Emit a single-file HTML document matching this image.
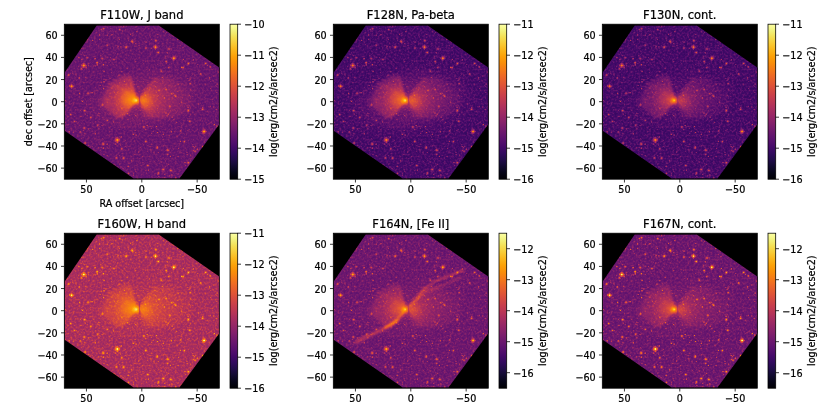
<!DOCTYPE html>
<html><head><meta charset="utf-8"><title>HST filters</title>
<style>
html,body{margin:0;padding:0;background:#fff;}
svg{display:block;}
text{font-family:"DejaVu Sans","Liberation Sans",sans-serif;fill:#000;stroke:#000;stroke-width:.22px;}
.t{font-size:11.53px;text-anchor:middle;}
.k{font-size:9.6px;}
.m{text-anchor:middle;}
.e{text-anchor:end;}
.l{stroke:#000;stroke-width:0.77;fill:none;}
</style></head><body>
<svg width="830" height="415" viewBox="0 0 830 415">
<defs>
<linearGradient id="cb" x1="0" y1="0" x2="0" y2="1"><stop offset="0.0000" stop-color="#fcffa4"/><stop offset="0.0417" stop-color="#f2f27d"/><stop offset="0.0833" stop-color="#f4df53"/><stop offset="0.1250" stop-color="#f9cb35"/><stop offset="0.1667" stop-color="#fbb61a"/><stop offset="0.2083" stop-color="#fca108"/><stop offset="0.2500" stop-color="#f98e09"/><stop offset="0.2917" stop-color="#f57b17"/><stop offset="0.3333" stop-color="#ed6925"/><stop offset="0.3750" stop-color="#e45a31"/><stop offset="0.4167" stop-color="#d84c3e"/><stop offset="0.4583" stop-color="#ca404a"/><stop offset="0.5000" stop-color="#bc3754"/><stop offset="0.5417" stop-color="#ab2f5e"/><stop offset="0.5833" stop-color="#9a2865"/><stop offset="0.6250" stop-color="#8a226a"/><stop offset="0.6667" stop-color="#781c6d"/><stop offset="0.7083" stop-color="#67166e"/><stop offset="0.7500" stop-color="#57106e"/><stop offset="0.7917" stop-color="#450a69"/><stop offset="0.8333" stop-color="#320a5e"/><stop offset="0.8750" stop-color="#210c4a"/><stop offset="0.9167" stop-color="#110a30"/><stop offset="0.9583" stop-color="#050417"/><stop offset="1.0000" stop-color="#000004"/></linearGradient>
<filter id="nz0" color-interpolation-filters="sRGB" x="0" y="0" width="100%" height="100%"><feTurbulence type="fractalNoise" baseFrequency="0.47" numOctaves="2" seed="5" result="t"/><feColorMatrix in="t" type="matrix" values="1.3 0 0 0 -.15  1.3 0 0 0 -.15  1.3 0 0 0 -.15  0 0 0 0 1" result="g"/><feComponentTransfer in="g" result="g2"><feFuncR type="gamma" exponent="2.2" amplitude="1"/><feFuncG type="gamma" exponent="2.2" amplitude="1"/><feFuncB type="gamma" exponent="2.2" amplitude="1"/></feComponentTransfer><feComposite in="g2" in2="SourceGraphic" operator="in" result="nm"/><feComposite in="SourceGraphic" in2="nm" operator="arithmetic" k1="0" k2="1" k3="0.16" k4="-0.03"/></filter>
<filter id="nz1" color-interpolation-filters="sRGB" x="0" y="0" width="100%" height="100%"><feTurbulence type="fractalNoise" baseFrequency="0.47" numOctaves="2" seed="5" result="t"/><feColorMatrix in="t" type="matrix" values="1.3 0 0 0 -.15  1.3 0 0 0 -.15  1.3 0 0 0 -.15  0 0 0 0 1" result="g"/><feComponentTransfer in="g" result="g2"><feFuncR type="gamma" exponent="2.2" amplitude="1"/><feFuncG type="gamma" exponent="2.2" amplitude="1"/><feFuncB type="gamma" exponent="2.2" amplitude="1"/></feComponentTransfer><feComposite in="g2" in2="SourceGraphic" operator="in" result="nm"/><feComposite in="SourceGraphic" in2="nm" operator="arithmetic" k1="0" k2="1" k3="0.17" k4="-0.03"/></filter>
<filter id="nz2" color-interpolation-filters="sRGB" x="0" y="0" width="100%" height="100%"><feTurbulence type="fractalNoise" baseFrequency="0.47" numOctaves="2" seed="5" result="t"/><feColorMatrix in="t" type="matrix" values="1.3 0 0 0 -.15  1.3 0 0 0 -.15  1.3 0 0 0 -.15  0 0 0 0 1" result="g"/><feComponentTransfer in="g" result="g2"><feFuncR type="gamma" exponent="2.2" amplitude="1"/><feFuncG type="gamma" exponent="2.2" amplitude="1"/><feFuncB type="gamma" exponent="2.2" amplitude="1"/></feComponentTransfer><feComposite in="g2" in2="SourceGraphic" operator="in" result="nm"/><feComposite in="SourceGraphic" in2="nm" operator="arithmetic" k1="0" k2="1" k3="0.17" k4="-0.03"/></filter>
<filter id="nz3" color-interpolation-filters="sRGB" x="0" y="0" width="100%" height="100%"><feTurbulence type="fractalNoise" baseFrequency="0.47" numOctaves="2" seed="5" result="t"/><feColorMatrix in="t" type="matrix" values="1.3 0 0 0 -.15  1.3 0 0 0 -.15  1.3 0 0 0 -.15  0 0 0 0 1" result="g"/><feComponentTransfer in="g" result="g2"><feFuncR type="gamma" exponent="2.2" amplitude="1"/><feFuncG type="gamma" exponent="2.2" amplitude="1"/><feFuncB type="gamma" exponent="2.2" amplitude="1"/></feComponentTransfer><feComposite in="g2" in2="SourceGraphic" operator="in" result="nm"/><feComposite in="SourceGraphic" in2="nm" operator="arithmetic" k1="0" k2="1" k3="0.2" k4="-0.04"/></filter>
<filter id="nz4" color-interpolation-filters="sRGB" x="0" y="0" width="100%" height="100%"><feTurbulence type="fractalNoise" baseFrequency="0.47" numOctaves="2" seed="5" result="t"/><feColorMatrix in="t" type="matrix" values="1.3 0 0 0 -.15  1.3 0 0 0 -.15  1.3 0 0 0 -.15  0 0 0 0 1" result="g"/><feComponentTransfer in="g" result="g2"><feFuncR type="gamma" exponent="2.2" amplitude="1"/><feFuncG type="gamma" exponent="2.2" amplitude="1"/><feFuncB type="gamma" exponent="2.2" amplitude="1"/></feComponentTransfer><feComposite in="g2" in2="SourceGraphic" operator="in" result="nm"/><feComposite in="SourceGraphic" in2="nm" operator="arithmetic" k1="0" k2="1" k3="0.16" k4="-0.03"/></filter>
<filter id="nz5" color-interpolation-filters="sRGB" x="0" y="0" width="100%" height="100%"><feTurbulence type="fractalNoise" baseFrequency="0.47" numOctaves="2" seed="5" result="t"/><feColorMatrix in="t" type="matrix" values="1.3 0 0 0 -.15  1.3 0 0 0 -.15  1.3 0 0 0 -.15  0 0 0 0 1" result="g"/><feComponentTransfer in="g" result="g2"><feFuncR type="gamma" exponent="2.2" amplitude="1"/><feFuncG type="gamma" exponent="2.2" amplitude="1"/><feFuncB type="gamma" exponent="2.2" amplitude="1"/></feComponentTransfer><feComposite in="g2" in2="SourceGraphic" operator="in" result="nm"/><feComposite in="SourceGraphic" in2="nm" operator="arithmetic" k1="0" k2="1" k3="0.16" k4="-0.03"/></filter>
<filter id="inf" color-interpolation-filters="sRGB" x="0" y="0" width="100%" height="100%"><feComponentTransfer><feFuncR type="table" tableValues="0.001 0.006 0.014 0.026 0.042 0.061 0.082 0.105 0.129 0.156 0.183 0.211 0.238 0.265 0.291 0.316 0.348 0.373 0.398 0.423 0.447 0.472 0.497 0.522 0.547 0.572 0.597 0.622 0.646 0.671 0.695 0.718 0.747 0.770 0.791 0.812 0.832 0.851 0.869 0.886 0.902 0.916 0.930 0.942 0.952 0.961 0.969 0.976 0.982 0.985 0.987 0.988 0.987 0.985 0.981 0.976 0.970 0.963 0.955 0.949 0.946 0.952 0.966 0.988"/><feFuncG type="table" tableValues="0.000 0.005 0.011 0.019 0.028 0.037 0.043 0.047 0.047 0.045 0.040 0.037 0.037 0.040 0.046 0.053 0.065 0.074 0.083 0.093 0.102 0.111 0.119 0.128 0.137 0.146 0.155 0.164 0.174 0.184 0.195 0.207 0.222 0.236 0.251 0.267 0.284 0.302 0.322 0.343 0.364 0.387 0.411 0.436 0.462 0.489 0.516 0.544 0.579 0.608 0.638 0.668 0.698 0.728 0.759 0.790 0.821 0.851 0.882 0.910 0.937 0.961 0.981 0.998"/><feFuncB type="table" tableValues="0.014 0.039 0.072 0.106 0.141 0.178 0.215 0.253 0.291 0.325 0.355 0.379 0.396 0.409 0.419 0.425 0.430 0.432 0.433 0.433 0.431 0.428 0.424 0.420 0.414 0.406 0.398 0.389 0.378 0.367 0.354 0.341 0.323 0.307 0.291 0.275 0.257 0.240 0.221 0.203 0.184 0.165 0.145 0.125 0.105 0.084 0.063 0.044 0.026 0.024 0.035 0.058 0.088 0.121 0.157 0.196 0.239 0.286 0.337 0.395 0.459 0.524 0.587 0.645"/></feComponentTransfer></filter>
<clipPath id="pc"><polygon points="32.4,1.2 94.5,1.2 155.3,43.6 155.3,99.7 115.2,154.2 69.3,154.2 0,106.2 0,48.9"/></clipPath>
<radialGradient id="gl" gradientUnits="userSpaceOnUse" cx="65.3" cy="75.4" r="40"><stop offset="0" stop-color="#c8c8c8" stop-opacity="0.88"/><stop offset="0.1" stop-color="#c8c8c8" stop-opacity="0.7"/><stop offset="0.22" stop-color="#c8c8c8" stop-opacity="0.5"/><stop offset="0.4" stop-color="#c8c8c8" stop-opacity="0.3"/><stop offset="0.65" stop-color="#c8c8c8" stop-opacity="0.15"/><stop offset="1" stop-color="#c8c8c8" stop-opacity="0.05"/></radialGradient>
<radialGradient id="gr" gradientUnits="userSpaceOnUse" cx="80.3" cy="76.4" r="52"><stop offset="0" stop-color="#c8c8c8" stop-opacity="0.8"/><stop offset="0.07" stop-color="#c8c8c8" stop-opacity="0.58"/><stop offset="0.16" stop-color="#c8c8c8" stop-opacity="0.4"/><stop offset="0.3" stop-color="#c8c8c8" stop-opacity="0.22"/><stop offset="0.55" stop-color="#c8c8c8" stop-opacity="0.1"/><stop offset="1" stop-color="#c8c8c8" stop-opacity="0.02"/></radialGradient>
<radialGradient id="gh"><stop offset="0" stop-color="#fff" stop-opacity=".14"/><stop offset=".5" stop-color="#fff" stop-opacity=".07"/><stop offset="1" stop-color="#fff" stop-opacity="0"/></radialGradient>
<radialGradient id="gc"><stop offset="0" stop-color="#fff" stop-opacity=".8"/><stop offset=".4" stop-color="#fff" stop-opacity=".36"/><stop offset="1" stop-color="#fff" stop-opacity="0"/></radialGradient>
<filter id="b5" x="-10%" y="-10%" width="120%" height="120%"><feGaussianBlur stdDeviation=".55"/></filter>
<filter id="b15" x="-30%" y="-30%" width="160%" height="160%"><feGaussianBlur stdDeviation="1.2"/></filter>
<filter id="b8" x="-30%" y="-30%" width="160%" height="160%"><feGaussianBlur stdDeviation=".8"/></filter>
<g id="neb"><ellipse cx="79.3" cy="76.4" rx="62" ry="32" fill="url(#gh)" transform="rotate(-8 72.3 76.4)"/><g filter="url(#b15)"><polygon points="72.3,76.4 69.8,64.4 66.7,51.9 60.3,50.9 52.3,54.4 45.3,59.9 40.3,68.4 38.3,75.4 40.3,82.9 45.3,88.9 52.3,92.9 58.8,92.9 65.8,84.9" fill="url(#gl)"/><polygon points="74.8,74.9 81.3,66.4 89.3,55.4 99.3,51.4 112.3,56.4 124.3,68.4 128.3,80.4 122.3,89.4 108.3,93.4 94.3,94.4 84.3,93.4 78.3,83.4" fill="url(#gr)"/><ellipse cx="64.3" cy="74.4" rx="8" ry="9" fill="#c8c8c8" opacity=".18"/><ellipse cx="81.3" cy="77.4" rx="6" ry="7.5" fill="#c8c8c8" opacity=".14"/></g><g fill="none" stroke="#d0d0d0" stroke-linecap="round" filter="url(#b8)"><polyline points="70.3,73.4 63.3,68.4 53.5,62.7 48.3,61.4" stroke-width="2.2" opacity=".2"/><polyline points="70.8,71.4 68.8,63.4 65.8,52.4" stroke-width="1.8" opacity=".22"/><polyline points="76.3,72.4 81.8,65.4 88.2,57.6 92.3,54.4" stroke-width="1.8" opacity=".2"/><polyline points="76.3,80.4 79.5,88.7 81.3,93.4" stroke-width="1.8" opacity=".18"/></g><circle cx="40.3" cy="78.4" r="6" fill="#c8c8c8" opacity=".1" filter="url(#b15)"/></g>
<g id="core"><circle cx="72.3" cy="76.4" r="9" fill="url(#gc)" opacity=".5"/><circle cx="71.8" cy="76.4" r="5" fill="url(#gc)"/><path d="M75.7 68.4L74.9 74.9L75.7 80.9" fill="none" stroke="#606060" stroke-width="1.3" stroke-linecap="round" opacity=".5" filter="url(#b5)"/></g>
<ellipse id="xh" cx="76.3" cy="78.4" rx="74" ry="40" fill="url(#gh)" transform="rotate(-8 72.3 76.4)"/>
<g id="jet" fill="none" stroke="#fff" stroke-linecap="round" stroke-linejoin="round" filter="url(#b8)"><polyline points="70.3,79.4 63.6,87.4 57.8,91.4 52,94.6" stroke-width="2.2" opacity=".45"/></g>
<g id="jet2" fill="none" stroke="#fff" stroke-linecap="round" stroke-linejoin="round" filter="url(#b8)"><polyline points="63.6,87.4 57.8,91.4 52,94.6 40.5,100.4 30.3,104.8 23.3,108.9" stroke-width="3.6" opacity=".25"/><polyline points="75.3,73.4 83.9,65.7 89.7,57 101.2,48.3 115.7,42.5 130.2,36.8" stroke-width="1.5" opacity=".36"/><polyline points="83.9,65.7 92.6,58.5 104.1,54.1 118.6,48.3 127.3,44" stroke-width="1.3" opacity=".28"/></g>
<g id="fs" fill="#fff"><path opacity="0.07" d="M50.2 23.4h1v1h-1zM100.9 11.2h1v1h-1zM83.1 56.7h1v1h-1zM9.0 78.7h1v1h-1zM5.8 67.2h1v1h-1zM10.8 14.1h1v1h-1zM65.8 128.2h1v1h-1zM19.2 34.6h1v1h-1zM97.3 146.9h1v1h-1zM89.5 61.5h1v1h-1zM151.3 7.2h1v1h-1zM133.1 44.9h1v1h-1zM22.4 18.3h1v1h-1zM47.8 126.5h1v1h-1zM28.0 90.1h1v1h-1zM99.0 57.7h1v1h-1zM84.9 9.7h1v1h-1zM9.2 31.9h1v1h-1zM105.5 66.3h1v1h-1zM48.7 90.8h1v1h-1zM70.2 46.5h1v1h-1zM123.1 108.3h1v1h-1zM37.8 89.0h1v1h-1zM81.4 135.6h1v1h-1zM113.1 44.6h1v1h-1zM151.9 18.3h1v1h-1zM64.8 117.4h1v1h-1zM23.6 75.8h1v1h-1zM6.1 103.6h1v1h-1zM118.5 88.8h1v1h-1zM135.7 48.6h1v1h-1zM107.8 92.1h1v1h-1zM89.9 70.7h1v1h-1zM130.2 146.4h1v1h-1zM73.5 102.9h1v1h-1zM9.4 108.7h1v1h-1zM100.3 153.9h1v1h-1zM127.4 44.1h1v1h-1zM59.8 103.6h1v1h-1zM3.5 71.6h1v1h-1zM26.0 18.1h1v1h-1zM9.1 119.1h1v1h-1zM20.0 38.4h1v1h-1zM60.6 135.1h1v1h-1zM12.5 69.6h1v1h-1zM85.2 136.9h1v1h-1zM127.0 133.9h1v1h-1zM43.2 64.4h1v1h-1zM55.6 137.0h1v1h-1zM148.4 23.4h1v1h-1zM27.3 36.0h1v1h-1zM36.2 75.2h1v1h-1zM91.3 40.7h1v1h-1zM0.6 64.9h1v1h-1zM57.2 87.8h1v1h-1zM147.7 107.0h1v1h-1zM79.9 95.7h1v1h-1zM104.8 8.4h1v1h-1zM139.4 120.9h1v1h-1zM135.5 123.7h1v1h-1zM60.8 61.8h1v1h-1zM16.0 98.3h1v1h-1zM9.6 10.4h1v1h-1zM32.4 25.2h1v1h-1zM52.7 8.1h1v1h-1zM0.0 23.4h1v1h-1zM15.7 56.4h1v1h-1zM4.0 135.5h1v1h-1zM95.2 23.0h1v1h-1zM39.1 53.8h1v1h-1zM56.4 19.0h1v1h-1zM131.6 153.9h1v1h-1zM72.2 75.0h1v1h-1zM13.3 15.8h1v1h-1zM53.1 41.0h1v1h-1zM128.5 25.0h1v1h-1zM3.6 147.4h1v1h-1zM81.9 22.7h1v1h-1zM84.2 4.2h1v1h-1zM81.9 151.7h1v1h-1zM133.8 107.9h1v1h-1zM40.5 56.8h1v1h-1zM25.9 119.7h1v1h-1zM82.6 120.8h1v1h-1zM51.1 34.6h1v1h-1zM125.8 152.7h1v1h-1zM132.2 124.9h1v1h-1zM126.8 114.7h1v1h-1zM35.1 80.2h1v1h-1zM55.1 4.5h1v1h-1zM4.3 43.3h1v1h-1zM40.2 107.3h1v1h-1zM148.3 69.3h1v1h-1zM145.2 153.1h1v1h-1zM148.0 56.5h1v1h-1zM34.2 35.2h1v1h-1zM30.5 31.7h1v1h-1zM96.7 139.5h1v1h-1zM130.3 74.3h1v1h-1zM101.2 123.9h1v1h-1zM13.1 102.4h1v1h-1zM141.0 121.3h1v1h-1zM116.3 74.1h1v1h-1zM27.7 122.3h1v1h-1zM51.5 124.1h1v1h-1zM150.6 61.4h1v1h-1zM62.2 146.8h1v1h-1zM112.3 26.4h1v1h-1zM19.7 23.4h1v1h-1zM140.3 125.0h1v1h-1zM22.7 128.1h1v1h-1zM151.9 101.9h1v1h-1zM54.3 85.0h1v1h-1zM20.3 2.2h1v1h-1zM150.5 100.7h1v1h-1zM81.6 144.7h1v1h-1zM67.2 135.1h1v1h-1zM128.1 32.7h1v1h-1zM39.0 45.4h1v1h-1zM37.3 90.9h1v1h-1zM40.2 64.9h1v1h-1zM20.3 141.1h1v1h-1zM54.8 71.0h1v1h-1zM90.4 140.2h1v1h-1zM65.2 142.2h1v1h-1zM77.8 82.4h1v1h-1zM81.1 2.9h1v1h-1zM68.2 28.4h1v1h-1zM0.6 123.9h1v1h-1zM26.7 73.4h1v1h-1zM112.4 86.3h1v1h-1zM50.5 80.3h1v1h-1zM86.1 121.6h1v1h-1zM16.4 86.8h1v1h-1zM38.5 42.9h1v1h-1zM119.7 78.7h1v1h-1zM87.1 117.8h1v1h-1zM141.4 68.7h1v1h-1zM94.9 78.4h1v1h-1zM79.4 107.4h1v1h-1zM70.1 82.7h1v1h-1zM74.1 145.9h1v1h-1zM108.4 135.9h1v1h-1zM146.0 40.2h1v1h-1zM86.7 146.2h1v1h-1zM130.2 21.3h1v1h-1zM18.9 68.5h1v1h-1zM11.2 37.3h1v1h-1zM11.3 103.8h1v1h-1zM121.5 139.0h1v1h-1zM23.9 111.0h1v1h-1zM102.3 22.2h1v1h-1zM136.8 150.0h1v1h-1zM34.0 147.6h1v1h-1zM61.7 75.5h1v1h-1zM153.4 129.0h1v1h-1zM25.0 66.9h1v1h-1zM79.9 52.6h1v1h-1zM30.3 49.4h1v1h-1zM111.9 3.0h1v1h-1zM85.9 68.3h1v1h-1zM2.8 51.4h1v1h-1zM96.7 79.4h1v1h-1zM10.0 152.7h1v1h-1zM122.2 150.6h1v1h-1zM16.2 41.2h1v1h-1zM6.1 120.7h1v1h-1zM41.9 20.1h1v1h-1zM65.4 141.3h1v1h-1zM126.9 40.1h1v1h-1zM23.2 142.5h1v1h-1zM88.4 108.6h1v1h-1zM13.9 8.9h1v1h-1zM106.7 65.9h1v1h-1zM11.2 145.4h1v1h-1zM98.3 124.3h1v1h-1zM13.0 132.7h1v1h-1zM10.3 133.7h1v1h-1zM70.3 52.6h1v1h-1zM85.7 143.6h1v1h-1zM41.5 20.0h1v1h-1zM81.7 37.0h1v1h-1zM17.0 25.0h1v1h-1zM7.8 31.3h1v1h-1zM48.4 47.3h1v1h-1zM117.7 44.9h1v1h-1zM77.5 27.6h1v1h-1zM53.8 2.8h1v1h-1zM38.8 2.4h1v1h-1zM113.6 85.4h1v1h-1zM29.4 73.6h1v1h-1zM144.9 16.5h1v1h-1zM126.9 67.0h1v1h-1zM76.7 129.4h1v1h-1zM60.9 78.5h1v1h-1zM106.6 152.3h1v1h-1zM53.1 129.0h1v1h-1zM109.5 98.6h1v1h-1zM62.7 53.9h1v1h-1zM8.4 20.1h1v1h-1zM11.0 114.8h1v1h-1zM39.6 25.3h1v1h-1zM13.1 130.4h1v1h-1zM134.9 103.9h1v1h-1zM43.7 37.5h1v1h-1zM45.4 71.2h1v1h-1zM24.4 69.1h1v1h-1zM40.8 149.1h1v1h-1zM150.8 84.8h1v1h-1zM37.9 149.7h1v1h-1zM48.0 55.3h1v1h-1zM0.2 59.2h1v1h-1zM73.6 77.9h1v1h-1zM31.2 78.2h1v1h-1zM0.8 40.9h1v1h-1zM13.9 61.9h1v1h-1zM6.5 3.5h1v1h-1zM47.2 36.1h1v1h-1zM90.8 82.0h1v1h-1zM116.3 101.9h1v1h-1zM111.0 136.3h1v1h-1zM60.4 50.6h1v1h-1zM152.6 23.2h1v1h-1zM112.2 99.7h1v1h-1zM6.8 129.5h1v1h-1zM138.3 97.2h1v1h-1zM113.7 125.9h1v1h-1zM21.6 81.2h1v1h-1zM78.2 129.4h1v1h-1zM124.7 128.1h1v1h-1zM90.5 138.4h1v1h-1zM105.8 107.5h1v1h-1zM35.6 4.8h1v1h-1zM20.6 55.9h1v1h-1zM16.3 129.6h1v1h-1zM86.6 97.3h1v1h-1zM97.1 105.5h1v1h-1zM75.8 0.5h1v1h-1zM123.6 116.0h1v1h-1zM78.0 83.0h1v1h-1zM102.2 10.2h1v1h-1zM114.2 39.1h1v1h-1zM11.5 41.2h1v1h-1zM113.0 31.8h1v1h-1zM114.7 151.2h1v1h-1zM76.6 59.3h1v1h-1zM74.2 106.0h1v1h-1zM118.9 95.6h1v1h-1zM99.6 12.0h1v1h-1zM22.9 39.4h1v1h-1zM115.2 47.2h1v1h-1zM88.0 1.9h1v1h-1zM9.4 41.7h1v1h-1zM104.2 107.3h1v1h-1zM104.7 45.1h1v1h-1zM80.1 72.0h1v1h-1zM72.3 18.4h1v1h-1zM138.5 30.9h1v1h-1zM151.6 145.1h1v1h-1zM2.7 71.1h1v1h-1zM127.1 150.1h1v1h-1zM69.7 41.6h1v1h-1zM32.5 146.6h1v1h-1zM32.7 90.1h1v1h-1zM22.0 81.2h1v1h-1zM147.7 20.6h1v1h-1zM127.1 78.9h1v1h-1zM137.5 109.0h1v1h-1zM35.9 139.1h1v1h-1zM75.4 3.8h1v1h-1zM0.6 76.2h1v1h-1zM69.9 46.8h1v1h-1zM21.8 53.3h1v1h-1zM49.0 130.2h1v1h-1zM0.3 116.4h1v1h-1zM130.1 18.6h1v1h-1zM143.6 110.5h1v1h-1zM139.7 44.9h1v1h-1zM57.7 60.9h1v1h-1zM154.8 91.3h1v1h-1zM55.9 66.3h1v1h-1zM42.6 7.5h1v1h-1zM15.8 129.4h1v1h-1zM44.3 145.0h1v1h-1zM38.6 41.2h1v1h-1zM79.2 29.4h1v1h-1zM57.9 148.2h1v1h-1zM137.1 125.9h1v1h-1zM97.8 141.6h1v1h-1zM145.8 85.1h1v1h-1zM111.5 7.7h1v1h-1zM113.5 69.9h1v1h-1zM116.7 99.9h1v1h-1zM44.4 7.6h1v1h-1zM143.7 19.7h1v1h-1zM73.2 53.3h1v1h-1zM46.2 114.6h1v1h-1zM151.3 40.3h1v1h-1zM101.7 46.6h1v1h-1zM86.4 61.1h1v1h-1zM25.9 25.1h1v1h-1zM32.2 140.4h1v1h-1zM77.0 34.1h1v1h-1zM140.5 154.5h1v1h-1zM69.7 21.6h1v1h-1zM29.8 14.1h1v1h-1zM53.0 14.1h1v1h-1zM37.1 40.0h1v1h-1zM88.3 137.5h1v1h-1zM116.2 64.0h1v1h-1zM64.2 81.2h1v1h-1zM58.4 52.4h1v1h-1zM9.6 43.0h1v1h-1zM150.0 19.5h1v1h-1zM78.0 97.6h1v1h-1zM133.7 33.5h1v1h-1zM42.0 38.5h1v1h-1zM62.0 69.1h1v1h-1zM147.9 131.5h1v1h-1zM135.3 3.4h1v1h-1zM5.0 110.0h1v1h-1zM138.8 73.4h1v1h-1zM91.0 0.0h1v1h-1zM60.7 143.7h1v1h-1zM128.0 132.6h1v1h-1zM150.7 38.5h1v1h-1zM16.9 23.9h1v1h-1zM81.0 105.7h1v1h-1zM145.9 111.9h1v1h-1zM100.3 118.5h1v1h-1zM70.9 85.5h1v1h-1zM6.1 121.3h1v1h-1zM36.0 142.6h1v1h-1zM100.1 47.1h1v1h-1zM19.8 39.0h1v1h-1zM98.6 108.3h1v1h-1zM17.4 10.9h1v1h-1zM81.3 90.3h1v1h-1zM60.2 34.7h1v1h-1zM93.2 1.6h1v1h-1zM46.7 71.4h1v1h-1zM148.6 99.9h1v1h-1zM137.0 73.7h1v1h-1zM36.4 38.3h1v1h-1zM148.9 109.2h1v1h-1zM47.6 3.4h1v1h-1zM77.2 104.5h1v1h-1zM65.1 39.9h1v1h-1zM103.4 143.4h1v1h-1zM35.2 5.3h1v1h-1zM52.4 65.2h1v1h-1zM105.8 30.7h1v1h-1zM123.5 114.6h1v1h-1zM78.3 31.8h1v1h-1zM150.3 48.3h1v1h-1zM127.1 35.8h1v1h-1zM34.3 117.9h1v1h-1zM45.7 147.5h1v1h-1zM76.8 29.0h1v1h-1zM34.6 64.6h1v1h-1zM103.1 147.1h1v1h-1zM22.7 61.0h1v1h-1zM33.0 151.0h1v1h-1zM22.0 8.0h1v1h-1zM9.3 61.0h1v1h-1zM139.2 137.0h1v1h-1zM113.6 154.6h1v1h-1zM144.4 51.0h1v1h-1zM28.8 145.1h1v1h-1zM115.7 4.9h1v1h-1zM103.0 58.7h1v1h-1zM58.0 51.4h1v1h-1zM26.2 0.4h1v1h-1zM43.4 54.5h1v1h-1zM148.1 19.2h1v1h-1zM149.5 32.1h1v1h-1zM55.3 127.3h1v1h-1zM127.4 67.0h1v1h-1zM7.6 73.4h1v1h-1zM57.8 142.5h1v1h-1zM29.9 56.5h1v1h-1zM139.0 4.7h1v1h-1zM63.7 125.8h1v1h-1zM118.8 6.3h1v1h-1zM5.4 9.7h1v1h-1zM142.6 39.8h1v1h-1zM115.8 139.3h1v1h-1zM52.6 42.2h1v1h-1zM148.4 95.6h1v1h-1zM40.6 111.1h1v1h-1zM49.1 42.7h1v1h-1zM0.6 117.1h1v1h-1zM142.1 98.3h1v1h-1zM146.2 3.8h1v1h-1zM36.2 73.7h1v1h-1zM148.3 147.9h1v1h-1zM59.9 38.9h1v1h-1zM66.6 76.5h1v1h-1zM143.9 28.4h1v1h-1zM124.4 114.5h1v1h-1zM127.5 119.8h1v1h-1zM94.1 50.8h1v1h-1zM49.5 56.1h1v1h-1zM121.2 12.2h1v1h-1zM30.6 116.7h1v1h-1zM38.3 10.0h1v1h-1zM5.2 85.7h1v1h-1zM50.5 151.9h1v1h-1zM136.9 153.1h1v1h-1zM41.1 13.0h1v1h-1zM14.9 77.3h1v1h-1zM110.0 69.3h1v1h-1zM36.3 64.6h1v1h-1zM96.1 104.5h1v1h-1zM115.9 131.3h1v1h-1zM103.0 18.8h1v1h-1zM130.3 45.5h1v1h-1zM87.9 57.8h1v1h-1zM114.4 30.9h1v1h-1zM38.4 38.0h1v1h-1zM23.8 137.0h1v1h-1zM89.6 50.6h1v1h-1zM61.4 153.8h1v1h-1zM78.6 35.9h1v1h-1zM125.3 101.3h1v1h-1zM153.6 15.9h1v1h-1zM73.6 127.0h1v1h-1zM130.3 141.7h1v1h-1zM6.3 45.5h1v1h-1zM18.5 29.4h1v1h-1zM150.8 90.4h1v1h-1zM144.2 57.7h1v1h-1zM134.2 69.6h1v1h-1zM40.3 120.6h1v1h-1zM146.6 16.4h1v1h-1zM92.4 96.1h1v1h-1zM33.7 57.1h1v1h-1zM21.9 31.6h1v1h-1zM39.5 92.9h1v1h-1zM101.0 31.5h1v1h-1zM1.8 50.7h1v1h-1zM105.1 28.7h1v1h-1zM48.4 31.5h1v1h-1zM123.3 84.9h1v1h-1zM9.8 15.7h1v1h-1zM61.3 85.3h1v1h-1zM99.1 14.1h1v1h-1zM25.4 107.8h1v1h-1zM63.5 43.9h1v1h-1zM47.7 147.7h1v1h-1zM48.4 87.8h1v1h-1zM55.4 64.5h1v1h-1zM134.0 154.5h1v1h-1zM56.4 30.6h1v1h-1zM112.8 31.6h1v1h-1zM0.9 139.8h1v1h-1zM65.7 127.2h1v1h-1zM63.0 136.8h1v1h-1zM71.4 25.2h1v1h-1zM2.3 85.5h1v1h-1zM99.3 141.0h1v1h-1zM13.8 96.4h1v1h-1zM57.5 78.2h1v1h-1zM22.6 43.9h1v1h-1zM80.8 143.5h1v1h-1zM16.9 76.0h1v1h-1zM124.7 149.9h1v1h-1zM30.6 19.6h1v1h-1zM146.2 151.2h1v1h-1zM74.8 8.3h1v1h-1zM143.6 60.1h1v1h-1zM140.2 96.2h1v1h-1zM127.8 24.8h1v1h-1zM121.8 34.4h1v1h-1zM62.7 131.2h1v1h-1zM128.5 28.4h1v1h-1zM33.8 62.0h1v1h-1zM80.3 59.5h1v1h-1zM19.1 38.3h1v1h-1zM112.4 139.1h1v1h-1zM6.4 87.2h1v1h-1zM117.4 5.9h1v1h-1zM129.9 18.2h1v1h-1zM92.9 85.3h1v1h-1zM97.2 47.5h1v1h-1zM65.1 90.3h1v1h-1zM66.0 102.1h1v1h-1zM69.3 67.9h1v1h-1zM3.6 95.9h1v1h-1zM75.9 36.5h1v1h-1zM118.4 120.9h1v1h-1zM71.0 27.8h1v1h-1zM73.3 16.6h1v1h-1zM19.9 66.7h1v1h-1zM14.2 68.5h1v1h-1zM79.1 6.3h1v1h-1zM98.6 12.7h1v1h-1zM113.7 120.5h1v1h-1zM79.3 8.4h1v1h-1zM78.1 58.6h1v1h-1zM147.4 21.1h1v1h-1zM132.8 154.4h1v1h-1zM113.5 126.3h1v1h-1zM30.0 152.2h1v1h-1zM76.2 148.3h1v1h-1zM142.0 25.6h1v1h-1zM122.2 144.2h1v1h-1zM10.2 54.4h1v1h-1zM117.2 24.6h1v1h-1zM139.0 42.6h1v1h-1zM126.4 22.3h1v1h-1zM77.8 142.6h1v1h-1zM32.3 40.7h1v1h-1zM78.4 49.5h1v1h-1zM5.7 28.2h1v1h-1zM25.0 145.1h1v1h-1zM105.4 138.8h1v1h-1zM26.2 121.7h1v1h-1zM17.8 82.3h1v1h-1zM98.6 55.8h1v1h-1zM135.3 86.1h1v1h-1zM89.9 136.8h1v1h-1zM16.2 153.9h1v1h-1zM97.6 61.1h1v1h-1zM123.6 41.0h1v1h-1zM153.5 89.5h1v1h-1zM55.8 118.5h1v1h-1zM68.6 27.4h1v1h-1zM115.3 7.5h1v1h-1zM127.1 39.3h1v1h-1zM99.1 152.5h1v1h-1zM90.8 102.9h1v1h-1zM48.5 0.3h1v1h-1zM5.2 23.2h1v1h-1zM95.5 67.0h1v1h-1zM79.5 138.8h1v1h-1zM20.5 35.2h1v1h-1zM101.2 3.5h1v1h-1zM0.4 55.0h1v1h-1zM16.5 55.4h1v1h-1zM34.8 90.5h1v1h-1zM91.3 31.6h1v1h-1zM96.7 73.6h1v1h-1zM20.9 145.2h1v1h-1zM37.8 23.1h1v1h-1zM14.8 98.9h1v1h-1zM135.0 121.2h1v1h-1zM62.3 41.0h1v1h-1zM1.8 100.0h1v1h-1zM87.2 54.3h1v1h-1zM100.1 68.8h1v1h-1zM145.3 113.7h1v1h-1zM38.5 140.0h1v1h-1zM6.8 82.4h1v1h-1zM62.9 36.8h1v1h-1zM9.0 120.7h1v1h-1zM1.9 85.4h1v1h-1zM145.8 22.1h1v1h-1zM30.9 94.3h1v1h-1zM78.6 99.4h1v1h-1zM126.1 27.1h1v1h-1zM48.0 46.5h1v1h-1zM7.5 137.8h1v1h-1zM121.4 110.9h1v1h-1zM1.0 130.9h1v1h-1zM115.5 72.1h1v1h-1zM115.0 70.1h1v1h-1zM35.0 16.3h1v1h-1zM36.0 6.0h1v1h-1zM52.0 116.2h1v1h-1zM107.7 131.0h1v1h-1zM110.3 41.2h1v1h-1zM85.8 67.6h1v1h-1zM122.2 81.1h1v1h-1zM41.1 99.5h1v1h-1zM149.6 33.6h1v1h-1zM136.4 2.4h1v1h-1zM40.4 36.6h1v1h-1zM115.3 146.4h1v1h-1zM115.7 50.7h1v1h-1zM136.4 50.9h1v1h-1zM37.1 140.7h1v1h-1zM97.8 107.4h1v1h-1zM103.1 151.7h1v1h-1zM72.8 130.2h1v1h-1zM108.1 132.9h1v1h-1zM67.8 112.3h1v1h-1zM88.4 47.7h1v1h-1zM32.9 96.5h1v1h-1zM12.1 141.2h1v1h-1zM22.4 4.2h1v1h-1zM16.5 144.0h1v1h-1zM53.5 22.0h1v1h-1zM4.5 6.5h1v1h-1zM107.4 98.3h1v1h-1zM108.0 114.2h1v1h-1zM10.2 91.5h1v1h-1zM56.3 126.7h1v1h-1zM127.0 138.1h1v1h-1zM10.2 134.5h1v1h-1zM141.7 146.4h1v1h-1zM16.6 31.9h1v1h-1zM17.4 5.3h1v1h-1zM131.4 125.9h1v1h-1zM98.3 127.9h1v1h-1zM97.9 44.5h1v1h-1zM15.5 15.2h1v1h-1zM117.4 31.8h1v1h-1zM49.5 65.7h1v1h-1zM3.2 39.8h1v1h-1zM43.8 110.9h1v1h-1zM57.0 49.7h1v1h-1zM149.4 78.1h1v1h-1zM132.0 95.8h1v1h-1zM4.8 64.0h1v1h-1zM67.6 119.8h1v1h-1zM53.8 109.2h1v1h-1zM83.4 33.6h1v1h-1zM133.6 14.1h1v1h-1zM127.1 26.4h1v1h-1zM0.2 31.3h1v1h-1zM118.1 151.6h1v1h-1zM0.7 76.1h1v1h-1zM76.2 123.5h1v1h-1zM28.6 76.7h1v1h-1zM53.8 128.9h1v1h-1zM40.4 146.3h1v1h-1zM44.0 33.3h1v1h-1zM108.4 77.2h1v1h-1zM17.0 98.7h1v1h-1zM12.5 122.1h1v1h-1zM108.1 122.0h1v1h-1zM97.3 55.1h1v1h-1zM62.2 61.2h1v1h-1zM138.0 13.4h1v1h-1zM137.7 3.9h1v1h-1zM31.9 40.8h1v1h-1zM139.7 77.7h1v1h-1zM58.8 137.0h1v1h-1zM36.2 71.4h1v1h-1zM82.4 116.9h1v1h-1zM116.7 100.2h1v1h-1zM54.0 50.6h1v1h-1zM24.1 130.7h1v1h-1zM102.6 115.0h1v1h-1zM26.3 68.0h1v1h-1zM119.9 89.8h1v1h-1zM19.5 71.6h1v1h-1zM137.2 36.9h1v1h-1zM29.7 46.7h1v1h-1zM109.0 130.8h1v1h-1zM24.0 24.2h1v1h-1zM38.4 50.6h1v1h-1zM80.9 24.9h1v1h-1zM50.9 29.3h1v1h-1zM151.1 113.0h1v1h-1zM15.8 149.2h1v1h-1zM15.8 59.6h1v1h-1zM152.5 123.2h1v1h-1zM113.7 67.4h1v1h-1zM30.4 98.9h1v1h-1zM16.6 32.0h1v1h-1zM60.2 5.3h1v1h-1zM61.8 122.6h1v1h-1zM107.5 77.6h1v1h-1zM98.0 71.8h1v1h-1zM22.0 93.6h1v1h-1zM62.7 114.8h1v1h-1zM140.7 66.7h1v1h-1zM89.0 116.1h1v1h-1zM65.3 35.4h1v1h-1zM111.9 136.4h1v1h-1zM120.0 108.5h1v1h-1zM132.1 105.3h1v1h-1zM99.4 70.4h1v1h-1zM48.5 97.4h1v1h-1zM15.2 65.0h1v1h-1zM121.3 110.5h1v1h-1zM97.6 38.8h1v1h-1zM65.7 70.6h1v1h-1zM96.3 63.4h1v1h-1zM104.7 144.2h1v1h-1zM28.4 101.4h1v1h-1zM120.6 60.2h1v1h-1zM75.9 151.1h1v1h-1zM5.9 84.2h1v1h-1zM24.9 121.2h1v1h-1zM145.8 80.5h1v1h-1zM15.7 89.1h1v1h-1zM83.9 111.2h1v1h-1zM79.4 99.1h1v1h-1zM128.5 80.9h1v1h-1zM63.6 146.9h1v1h-1zM32.6 106.1h1v1h-1zM60.8 118.2h1v1h-1zM19.0 152.6h1v1h-1zM55.1 8.8h1v1h-1zM42.5 62.0h1v1h-1zM2.1 64.9h1v1h-1zM65.2 108.2h1v1h-1z"/><path opacity="0.12" d="M54.6 41.1h1v1h-1zM34.8 114.9h1v1h-1zM145.7 81.7h1v1h-1zM33.9 124.2h1v1h-1zM60.8 32.9h1v1h-1zM20.0 120.4h1v1h-1zM125.5 98.3h1v1h-1zM72.7 87.1h1v1h-1zM35.0 149.4h1v1h-1zM54.7 99.0h1v1h-1zM126.9 126.5h1v1h-1zM72.6 45.6h1v1h-1zM85.0 19.4h1v1h-1zM129.2 55.0h1v1h-1zM131.9 41.5h1v1h-1zM58.3 39.3h1v1h-1zM66.0 28.8h1v1h-1zM0.4 111.9h1v1h-1zM43.6 38.0h1v1h-1zM46.8 74.3h1v1h-1zM66.4 98.8h1v1h-1zM102.2 56.2h1v1h-1zM144.0 132.4h1v1h-1zM8.8 128.3h1v1h-1zM140.4 121.5h1v1h-1zM21.8 128.9h1v1h-1zM98.1 2.3h1v1h-1zM1.8 147.5h1v1h-1zM101.7 38.8h1v1h-1zM15.7 22.1h1v1h-1zM36.2 120.3h1v1h-1zM53.7 23.7h1v1h-1zM140.1 122.7h1v1h-1zM26.0 138.1h1v1h-1zM94.3 121.1h1v1h-1zM103.6 138.6h1v1h-1zM122.2 130.0h1v1h-1zM30.6 107.4h1v1h-1zM82.3 115.0h1v1h-1zM68.0 136.8h1v1h-1zM86.0 41.0h1v1h-1zM36.3 21.6h1v1h-1zM76.4 9.1h1v1h-1zM72.4 22.4h1v1h-1zM76.2 77.2h1v1h-1zM83.6 133.7h1v1h-1zM1.0 130.3h1v1h-1zM72.5 87.2h1v1h-1zM103.1 130.3h1v1h-1zM58.1 64.9h1v1h-1zM148.9 11.7h1v1h-1zM98.7 98.6h1v1h-1zM4.4 94.5h1v1h-1zM105.8 144.4h1v1h-1zM51.2 152.2h1v1h-1zM79.1 75.1h1v1h-1zM139.1 5.3h1v1h-1zM111.3 96.9h1v1h-1zM52.5 133.6h1v1h-1zM56.8 73.6h1v1h-1zM81.5 119.4h1v1h-1zM32.7 67.5h1v1h-1zM65.5 85.9h1v1h-1zM128.1 45.4h1v1h-1zM128.3 62.6h1v1h-1zM78.1 42.1h1v1h-1zM78.5 151.1h1v1h-1zM101.5 122.8h1v1h-1zM51.3 49.1h1v1h-1zM46.4 90.9h1v1h-1zM98.4 121.6h1v1h-1zM6.2 112.0h1v1h-1zM137.3 84.5h1v1h-1zM7.7 46.6h1v1h-1zM1.0 29.4h1v1h-1zM142.8 94.3h1v1h-1zM102.0 122.3h1v1h-1zM141.0 94.8h1v1h-1zM95.6 97.2h1v1h-1zM107.9 92.4h1v1h-1zM105.6 32.9h1v1h-1zM103.4 71.0h1v1h-1zM118.2 15.7h1v1h-1zM28.1 5.7h1v1h-1zM120.1 141.7h1v1h-1zM101.6 57.2h1v1h-1zM127.5 121.9h1v1h-1zM87.1 40.0h1v1h-1zM46.8 65.4h1v1h-1zM49.4 66.8h1v1h-1zM99.5 144.7h1v1h-1zM8.5 88.0h1v1h-1zM6.1 18.4h1v1h-1zM125.6 89.2h1v1h-1zM142.4 69.2h1v1h-1zM2.2 60.0h1v1h-1zM91.8 145.3h1v1h-1zM152.0 73.7h1v1h-1zM63.9 15.8h1v1h-1zM99.9 32.9h1v1h-1zM23.5 2.4h1v1h-1zM0.7 106.0h1v1h-1zM18.9 149.8h1v1h-1zM13.7 134.8h1v1h-1zM20.0 2.8h1v1h-1zM111.5 37.6h1v1h-1zM113.7 29.0h1v1h-1zM7.8 120.0h1v1h-1zM110.6 132.6h1v1h-1zM113.1 13.1h1v1h-1zM97.4 109.9h1v1h-1zM71.4 144.5h1v1h-1zM39.4 149.5h1v1h-1zM111.2 1.8h1v1h-1zM2.3 100.9h1v1h-1zM126.7 12.4h1v1h-1zM48.2 113.1h1v1h-1zM25.7 133.4h1v1h-1zM75.4 9.3h1v1h-1zM57.0 89.1h1v1h-1zM68.0 104.9h1v1h-1zM22.5 123.6h1v1h-1zM56.3 100.0h1v1h-1zM97.6 64.8h1v1h-1zM59.8 121.9h1v1h-1zM146.5 121.6h1v1h-1zM87.9 45.3h1v1h-1zM9.4 151.0h1v1h-1zM109.0 128.2h1v1h-1zM51.5 93.9h1v1h-1zM151.5 128.8h1v1h-1zM93.2 47.8h1v1h-1zM66.4 137.7h1v1h-1zM58.4 106.1h1v1h-1zM93.3 138.9h1v1h-1zM125.2 43.9h1v1h-1zM0.3 40.8h1v1h-1zM65.5 90.9h1v1h-1zM126.5 137.6h1v1h-1zM6.6 129.2h1v1h-1zM125.8 134.4h1v1h-1zM88.6 42.4h1v1h-1zM131.9 125.1h1v1h-1zM106.1 141.6h1v1h-1zM53.8 13.2h1v1h-1zM85.8 123.6h1v1h-1zM31.1 116.3h1v1h-1zM144.4 36.3h1v1h-1zM94.1 105.0h1v1h-1zM72.1 32.0h1v1h-1zM39.5 116.4h1v1h-1zM122.7 71.3h1v1h-1zM13.6 125.0h1v1h-1zM119.7 36.1h1v1h-1zM89.8 139.0h1v1h-1zM137.2 80.9h1v1h-1zM73.9 91.3h1v1h-1zM29.3 29.8h1v1h-1zM28.0 108.7h1v1h-1zM56.2 87.5h1v1h-1zM62.4 80.2h1v1h-1zM23.1 6.9h1v1h-1zM154.6 58.0h1v1h-1zM16.4 98.1h1v1h-1zM122.0 24.2h1v1h-1zM92.6 53.5h1v1h-1zM80.5 3.2h1v1h-1zM5.2 153.5h1v1h-1zM134.2 75.4h1v1h-1zM87.9 40.5h1v1h-1zM120.8 66.0h1v1h-1zM146.7 118.9h1v1h-1zM126.9 149.3h1v1h-1zM39.4 5.9h1v1h-1zM31.2 28.0h1v1h-1zM13.0 7.9h1v1h-1zM86.4 135.0h1v1h-1zM71.0 146.8h1v1h-1zM141.0 9.9h1v1h-1zM92.7 61.6h1v1h-1zM18.6 148.7h1v1h-1zM39.9 87.5h1v1h-1zM99.3 148.2h1v1h-1zM103.8 60.9h1v1h-1zM69.5 24.8h1v1h-1zM149.7 153.7h1v1h-1zM34.4 6.0h1v1h-1zM39.7 54.6h1v1h-1zM139.9 140.2h1v1h-1zM129.8 7.3h1v1h-1zM121.9 110.0h1v1h-1zM100.2 152.7h1v1h-1zM8.6 22.4h1v1h-1zM117.0 145.6h1v1h-1zM104.9 46.3h1v1h-1zM91.7 117.5h1v1h-1zM16.3 50.2h1v1h-1zM39.8 19.2h1v1h-1zM74.6 26.1h1v1h-1zM37.0 22.2h1v1h-1zM105.0 2.0h1v1h-1zM111.2 30.2h1v1h-1zM5.6 143.8h1v1h-1zM34.2 144.8h1v1h-1zM134.3 137.7h1v1h-1zM21.7 69.3h1v1h-1zM15.0 144.0h1v1h-1zM130.5 97.4h1v1h-1zM70.1 52.7h1v1h-1zM127.6 74.0h1v1h-1zM97.4 22.1h1v1h-1zM34.4 8.8h1v1h-1zM110.6 85.8h1v1h-1zM22.4 135.0h1v1h-1zM41.3 63.8h1v1h-1zM24.1 42.0h1v1h-1zM130.1 51.8h1v1h-1zM26.0 76.1h1v1h-1zM49.3 140.0h1v1h-1zM17.7 151.7h1v1h-1zM8.8 138.7h1v1h-1zM103.6 32.7h1v1h-1zM74.0 44.4h1v1h-1zM40.0 31.3h1v1h-1zM56.5 153.6h1v1h-1zM154.7 143.4h1v1h-1zM15.1 44.9h1v1h-1zM138.9 8.9h1v1h-1zM112.6 45.5h1v1h-1zM151.7 2.5h1v1h-1zM125.1 52.8h1v1h-1zM21.7 0.3h1v1h-1zM129.0 81.6h1v1h-1zM28.8 67.5h1v1h-1zM141.4 33.8h1v1h-1zM88.6 21.4h1v1h-1zM27.9 119.4h1v1h-1zM110.3 30.5h1v1h-1zM12.3 13.6h1v1h-1zM94.3 76.8h1v1h-1zM42.5 31.9h1v1h-1zM94.9 109.7h1v1h-1zM125.8 90.4h1v1h-1zM31.4 10.2h1v1h-1zM113.6 63.3h1v1h-1zM111.9 8.6h1v1h-1zM125.7 52.0h1v1h-1zM130.5 134.0h1v1h-1zM76.4 2.4h1v1h-1zM141.1 73.9h1v1h-1zM135.2 41.3h1v1h-1zM28.8 128.9h1v1h-1zM56.9 25.3h1v1h-1zM57.5 92.2h1v1h-1zM0.7 80.6h1v1h-1zM69.1 79.9h1v1h-1zM18.7 110.8h1v1h-1zM126.6 134.1h1v1h-1zM49.8 110.2h1v1h-1zM59.1 116.5h1v1h-1zM9.5 135.3h1v1h-1zM147.9 76.7h1v1h-1zM79.6 82.2h1v1h-1zM83.3 3.2h1v1h-1zM150.0 34.7h1v1h-1zM28.3 15.9h1v1h-1zM38.8 126.7h1v1h-1zM4.7 15.0h1v1h-1zM108.3 30.2h1v1h-1zM2.7 92.9h1v1h-1zM89.4 81.1h1v1h-1zM108.9 15.9h1v1h-1zM134.8 111.2h1v1h-1zM7.0 19.1h1v1h-1zM76.5 77.6h1v1h-1zM43.3 18.9h1v1h-1zM62.9 21.2h1v1h-1zM91.7 133.5h1v1h-1zM22.8 88.8h1v1h-1zM115.7 25.5h1v1h-1zM128.0 145.3h1v1h-1zM60.3 65.2h1v1h-1zM130.2 81.5h1v1h-1zM61.3 145.9h1v1h-1zM120.4 52.5h1v1h-1zM37.3 51.9h1v1h-1zM67.5 152.1h1v1h-1zM124.7 141.5h1v1h-1zM126.3 131.4h1v1h-1zM8.3 80.2h1v1h-1zM148.5 144.8h1v1h-1zM38.6 65.4h1v1h-1zM98.1 56.5h1v1h-1zM82.3 10.7h1v1h-1zM67.1 78.2h1v1h-1zM3.2 21.6h1v1h-1zM150.3 120.4h1v1h-1zM145.2 98.1h1v1h-1zM125.4 137.1h1v1h-1zM137.1 5.3h1v1h-1zM99.4 41.2h1v1h-1zM105.2 42.4h1v1h-1zM84.0 143.3h1v1h-1zM96.3 38.8h1v1h-1zM80.6 67.2h1v1h-1zM147.4 44.6h1v1h-1zM47.3 100.4h1v1h-1zM18.7 92.1h1v1h-1zM148.2 79.6h1v1h-1zM41.6 72.3h1v1h-1zM82.7 23.0h1v1h-1zM19.2 20.4h1v1h-1zM45.5 63.0h1v1h-1zM44.7 37.7h1v1h-1zM13.6 84.7h1v1h-1zM130.2 94.5h1v1h-1zM88.4 100.8h1v1h-1zM31.2 110.1h1v1h-1zM71.4 84.9h1v1h-1zM95.0 72.7h1v1h-1zM48.1 37.5h1v1h-1zM34.3 79.4h1v1h-1zM59.4 90.8h1v1h-1zM1.8 54.7h1v1h-1zM133.6 37.0h1v1h-1zM86.3 76.2h1v1h-1zM44.1 153.1h1v1h-1zM45.8 119.7h1v1h-1zM24.6 10.4h1v1h-1zM135.0 68.2h1v1h-1zM9.6 60.1h1v1h-1zM68.2 114.0h1v1h-1zM16.9 34.9h1v1h-1zM148.7 114.5h1v1h-1zM24.0 52.2h1v1h-1zM54.6 104.7h1v1h-1zM95.5 131.7h1v1h-1zM127.3 80.3h1v1h-1zM114.5 115.2h1v1h-1zM117.8 73.7h1v1h-1zM121.7 109.8h1v1h-1zM141.8 19.7h1v1h-1zM135.0 0.7h1v1h-1zM118.7 90.8h1v1h-1zM77.2 149.2h1v1h-1zM88.7 64.8h1v1h-1zM121.5 135.3h1v1h-1zM94.1 58.8h1v1h-1zM70.1 71.0h1v1h-1zM112.1 45.4h1v1h-1zM60.6 86.1h1v1h-1zM59.6 49.9h1v1h-1zM122.0 131.7h1v1h-1zM77.4 68.8h1v1h-1zM28.6 47.1h1v1h-1zM22.5 89.2h1v1h-1zM90.1 13.6h1v1h-1zM142.6 50.2h1v1h-1zM130.7 129.9h1v1h-1zM148.6 31.7h1v1h-1zM66.1 141.1h1v1h-1zM1.7 7.4h1v1h-1zM87.6 77.1h1v1h-1zM142.6 119.9h1v1h-1zM83.5 154.7h1v1h-1zM80.2 80.2h1v1h-1zM106.2 60.4h1v1h-1zM55.4 92.2h1v1h-1zM54.4 146.9h1v1h-1zM104.9 81.4h1v1h-1zM15.3 58.0h1v1h-1zM62.1 87.0h1v1h-1zM89.0 136.4h1v1h-1zM149.5 75.4h1v1h-1zM68.2 96.8h1v1h-1zM154.4 53.2h1v1h-1zM82.2 126.5h1v1h-1zM26.5 49.3h1v1h-1zM151.7 128.0h1v1h-1zM79.5 17.1h1v1h-1zM138.6 106.9h1v1h-1zM127.2 153.5h1v1h-1zM137.7 65.2h1v1h-1zM24.2 44.9h1v1h-1zM79.3 78.3h1v1h-1zM29.2 28.3h1v1h-1zM97.7 93.5h1v1h-1zM54.7 154.0h1v1h-1zM98.7 6.6h1v1h-1zM63.8 122.1h1v1h-1zM47.5 107.1h1v1h-1zM0.6 47.2h1v1h-1zM130.5 90.9h1v1h-1zM103.6 30.5h1v1h-1zM77.2 85.8h1v1h-1zM41.2 100.3h1v1h-1zM82.4 154.6h1v1h-1zM89.0 63.7h1v1h-1zM18.8 24.3h1v1h-1zM117.7 16.5h1v1h-1zM15.5 26.4h1v1h-1zM81.0 127.6h1v1h-1zM95.0 125.0h1v1h-1zM9.6 1.9h1v1h-1zM119.4 50.0h1v1h-1zM110.9 54.8h1v1h-1zM26.3 41.3h1v1h-1zM15.4 140.1h1v1h-1zM90.3 54.1h1v1h-1zM69.7 59.8h1v1h-1zM8.5 138.0h1v1h-1zM90.3 148.7h1v1h-1zM68.1 96.1h1v1h-1zM38.6 6.8h1v1h-1zM144.3 132.5h1v1h-1zM48.8 139.3h1v1h-1zM126.5 47.1h1v1h-1zM93.4 148.8h1v1h-1zM76.8 147.2h1v1h-1zM37.7 60.4h1v1h-1zM111.4 34.3h1v1h-1zM47.9 135.7h1v1h-1zM75.1 122.9h1v1h-1zM37.7 26.9h1v1h-1zM55.6 28.9h1v1h-1zM150.6 45.1h1v1h-1zM87.0 17.8h1v1h-1zM82.7 59.8h1v1h-1zM62.5 10.1h1v1h-1zM19.1 128.0h1v1h-1zM54.4 38.0h1v1h-1zM29.6 44.0h1v1h-1zM36.8 5.4h1v1h-1zM103.0 52.9h1v1h-1zM24.2 109.4h1v1h-1zM14.4 41.8h1v1h-1zM129.4 19.8h1v1h-1zM68.7 129.6h1v1h-1zM124.8 24.7h1v1h-1zM54.7 112.0h1v1h-1zM58.4 148.6h1v1h-1zM32.2 147.4h1v1h-1zM78.2 35.2h1v1h-1zM70.2 20.3h1v1h-1zM109.5 40.4h1v1h-1zM139.4 91.1h1v1h-1zM57.0 38.2h1v1h-1zM94.3 32.9h1v1h-1zM135.2 19.0h1v1h-1zM79.5 84.1h1v1h-1zM41.9 119.6h1v1h-1zM59.6 101.9h1v1h-1zM88.0 48.2h1v1h-1zM60.4 13.3h1v1h-1zM27.4 131.9h1v1h-1zM49.8 102.7h1v1h-1zM16.9 87.1h1v1h-1zM56.0 77.6h1v1h-1zM46.0 10.2h1v1h-1zM48.2 35.1h1v1h-1zM19.6 111.1h1v1h-1zM43.8 62.5h1v1h-1zM140.9 120.1h1v1h-1zM136.8 133.5h1v1h-1zM20.5 42.9h1v1h-1zM4.6 105.3h1v1h-1zM102.9 54.5h1v1h-1zM63.9 102.2h1v1h-1zM108.4 38.5h1v1h-1zM131.2 54.6h1v1h-1zM97.5 28.2h1v1h-1zM17.9 141.5h1v1h-1zM113.8 110.5h1v1h-1zM6.3 6.2h1v1h-1zM25.1 30.7h1v1h-1zM47.0 59.0h1v1h-1zM6.1 48.2h1v1h-1zM98.9 27.8h1v1h-1zM130.1 88.4h1v1h-1zM111.1 39.5h1v1h-1zM67.4 106.1h1v1h-1zM54.1 0.2h1v1h-1zM129.3 120.4h1v1h-1zM44.4 6.7h1v1h-1zM132.4 94.1h1v1h-1zM7.3 37.9h1v1h-1zM17.2 122.7h1v1h-1zM32.6 141.7h1v1h-1zM116.2 13.4h1v1h-1zM107.7 61.0h1v1h-1zM115.9 128.5h1v1h-1zM43.6 13.9h1v1h-1zM146.7 65.7h1v1h-1zM144.2 107.2h1v1h-1zM114.5 128.6h1v1h-1zM97.4 70.2h1v1h-1zM8.4 108.2h1v1h-1zM66.4 79.3h1v1h-1zM143.9 19.8h1v1h-1zM118.1 6.8h1v1h-1zM108.9 124.9h1v1h-1zM40.5 84.7h1v1h-1zM150.3 98.8h1v1h-1zM84.3 38.7h1v1h-1zM9.2 55.5h1v1h-1zM63.8 31.2h1v1h-1zM48.1 21.2h1v1h-1zM109.6 103.9h1v1h-1zM36.9 37.5h1v1h-1zM79.9 69.0h1v1h-1zM145.1 54.5h1v1h-1zM46.4 137.1h1v1h-1zM22.0 87.3h1v1h-1zM51.7 126.4h1v1h-1zM85.0 117.9h1v1h-1zM26.2 103.3h1v1h-1zM92.8 71.5h1v1h-1zM118.8 128.8h1v1h-1zM17.7 44.8h1v1h-1zM55.9 32.0h1v1h-1z"/><path opacity="0.2" d="M9.4 43.5h1v1h-1zM30.6 108.8h1v1h-1zM69.4 17.5h1v1h-1zM50.3 72.6h1v1h-1zM56.3 26.1h1v1h-1zM11.1 1.7h1v1h-1zM153.8 116.3h1v1h-1zM13.0 111.2h1v1h-1zM151.9 87.4h1v1h-1zM16.9 75.8h1v1h-1zM67.3 29.4h1v1h-1zM84.2 1.3h1v1h-1zM142.5 99.9h1v1h-1zM97.3 145.0h1v1h-1zM101.2 39.0h1v1h-1zM38.1 21.5h1v1h-1zM4.3 120.0h1v1h-1zM130.1 45.9h1v1h-1zM28.8 98.9h1v1h-1zM131.1 143.6h1v1h-1zM26.1 121.6h1v1h-1zM128.7 115.1h1v1h-1zM50.6 28.6h1v1h-1zM127.9 49.6h1v1h-1zM57.1 85.4h1v1h-1zM57.2 128.9h1v1h-1zM37.1 6.4h1v1h-1zM87.9 97.4h1v1h-1zM127.1 109.4h1v1h-1zM140.3 146.5h1v1h-1zM76.6 77.4h1v1h-1zM24.4 46.4h1v1h-1zM90.1 12.4h1v1h-1zM106.6 25.4h1v1h-1zM68.7 150.3h1v1h-1zM13.9 6.2h1v1h-1zM68.1 29.6h1v1h-1zM112.1 0.4h1v1h-1zM130.3 132.6h1v1h-1zM122.0 65.9h1v1h-1zM43.9 102.6h1v1h-1zM79.8 65.3h1v1h-1zM52.5 68.0h1v1h-1zM103.2 128.0h1v1h-1zM140.1 25.5h1v1h-1zM45.8 68.7h1v1h-1zM87.3 54.0h1v1h-1zM30.3 13.2h1v1h-1zM50.2 71.4h1v1h-1zM150.6 140.8h1v1h-1zM134.1 151.0h1v1h-1zM149.1 96.1h1v1h-1zM125.7 9.3h1v1h-1zM104.8 94.4h1v1h-1zM46.0 88.5h1v1h-1zM147.7 74.5h1v1h-1zM100.3 46.4h1v1h-1zM53.2 137.2h1v1h-1zM4.3 29.3h1v1h-1zM105.2 69.3h1v1h-1zM13.2 102.4h1v1h-1zM57.7 90.0h1v1h-1zM64.5 82.1h1v1h-1zM87.5 61.4h1v1h-1zM17.7 28.0h1v1h-1zM137.9 85.0h1v1h-1zM17.4 133.6h1v1h-1zM39.3 14.7h1v1h-1zM82.3 39.0h1v1h-1zM75.8 85.9h1v1h-1zM35.1 88.8h1v1h-1zM17.5 79.5h1v1h-1zM91.2 12.4h1v1h-1zM63.2 11.4h1v1h-1zM68.1 133.8h1v1h-1zM85.3 110.8h1v1h-1zM117.3 17.8h1v1h-1zM153.6 111.8h1v1h-1zM15.8 128.7h1v1h-1zM60.8 26.5h1v1h-1zM148.8 87.3h1v1h-1zM120.1 21.2h1v1h-1zM120.3 8.9h1v1h-1zM36.7 57.7h1v1h-1zM2.4 92.1h1v1h-1zM33.0 46.5h1v1h-1zM109.7 66.0h1v1h-1zM137.7 96.3h1v1h-1zM135.2 87.3h1v1h-1zM142.2 135.0h1v1h-1zM26.0 115.5h1v1h-1zM52.9 118.4h1v1h-1zM105.5 128.0h1v1h-1zM19.0 57.8h1v1h-1zM114.3 146.9h1v1h-1zM111.9 6.7h1v1h-1zM93.6 15.4h1v1h-1zM85.1 124.5h1v1h-1zM17.5 143.4h1v1h-1zM104.7 39.5h1v1h-1zM29.9 69.2h1v1h-1zM129.9 90.1h1v1h-1zM17.6 3.2h1v1h-1zM17.1 124.1h1v1h-1zM28.7 85.9h1v1h-1zM45.0 106.5h1v1h-1zM59.0 22.4h1v1h-1zM135.7 83.5h1v1h-1zM106.9 125.3h1v1h-1zM147.1 2.1h1v1h-1zM53.1 23.4h1v1h-1zM77.8 135.3h1v1h-1zM124.1 5.5h1v1h-1zM28.3 126.8h1v1h-1zM105.3 60.8h1v1h-1zM73.7 24.5h1v1h-1zM131.0 61.0h1v1h-1zM135.3 94.7h1v1h-1zM11.8 51.0h1v1h-1zM33.5 138.6h1v1h-1zM91.3 6.8h1v1h-1zM26.3 56.0h1v1h-1zM72.5 89.4h1v1h-1zM60.1 54.8h1v1h-1zM0.9 89.8h1v1h-1zM51.7 3.2h1v1h-1zM71.2 152.9h1v1h-1zM7.0 22.6h1v1h-1zM104.0 42.3h1v1h-1zM42.4 77.5h1v1h-1zM40.6 88.2h1v1h-1zM81.9 148.3h1v1h-1zM153.8 5.3h1v1h-1zM86.9 119.5h1v1h-1zM135.2 120.0h1v1h-1zM98.1 98.4h1v1h-1zM56.3 43.6h1v1h-1zM123.3 135.3h1v1h-1zM145.5 105.6h1v1h-1zM47.1 118.3h1v1h-1zM114.6 78.9h1v1h-1zM98.5 54.3h1v1h-1zM85.4 62.9h1v1h-1zM9.4 52.3h1v1h-1zM50.1 153.2h1v1h-1zM74.6 56.9h1v1h-1zM37.7 36.4h1v1h-1zM54.1 21.0h1v1h-1zM1.1 135.0h1v1h-1zM70.2 69.1h1v1h-1zM88.2 46.9h1v1h-1zM26.2 10.3h1v1h-1zM46.7 47.8h1v1h-1zM112.6 85.4h1v1h-1zM145.3 52.8h1v1h-1zM142.8 90.4h1v1h-1zM12.4 27.7h1v1h-1zM90.0 153.1h1v1h-1zM55.3 120.0h1v1h-1zM66.4 134.6h1v1h-1zM10.5 75.1h1v1h-1zM139.4 42.8h1v1h-1zM39.9 3.6h1v1h-1zM25.5 41.5h1v1h-1zM109.2 33.8h1v1h-1zM61.9 31.1h1v1h-1zM93.4 133.9h1v1h-1zM100.5 30.5h1v1h-1zM113.8 149.3h1v1h-1zM93.2 12.3h1v1h-1zM125.5 135.7h1v1h-1zM52.9 21.2h1v1h-1zM29.2 83.2h1v1h-1zM135.7 99.2h1v1h-1zM143.0 32.9h1v1h-1zM50.6 116.1h1v1h-1zM100.6 62.8h1v1h-1zM105.2 52.4h1v1h-1zM8.9 64.2h1v1h-1zM7.0 97.1h1v1h-1zM51.9 76.6h1v1h-1zM92.7 39.8h1v1h-1zM71.8 2.1h1v1h-1zM143.4 87.4h1v1h-1zM153.1 8.7h1v1h-1zM95.2 112.2h1v1h-1zM51.0 14.5h1v1h-1zM24.2 22.1h1v1h-1zM118.9 13.9h1v1h-1zM126.2 65.6h1v1h-1zM83.5 91.2h1v1h-1zM86.0 101.9h1v1h-1zM93.2 51.3h1v1h-1zM114.9 40.0h1v1h-1zM110.3 118.3h1v1h-1zM120.3 47.9h1v1h-1zM119.8 151.5h1v1h-1zM70.2 43.1h1v1h-1zM81.1 145.8h1v1h-1zM20.4 1.4h1v1h-1zM73.7 101.6h1v1h-1zM120.0 56.2h1v1h-1zM153.4 35.4h1v1h-1zM117.3 13.9h1v1h-1zM4.3 20.8h1v1h-1zM9.3 77.8h1v1h-1zM86.1 28.2h1v1h-1zM145.7 56.7h1v1h-1zM23.1 27.5h1v1h-1zM114.4 142.8h1v1h-1zM25.1 4.5h1v1h-1zM120.6 37.6h1v1h-1zM152.3 77.3h1v1h-1zM98.6 53.4h1v1h-1zM124.1 71.3h1v1h-1zM50.2 140.0h1v1h-1zM16.7 113.7h1v1h-1zM10.1 100.0h1v1h-1zM62.3 133.9h1v1h-1zM9.3 87.5h1v1h-1zM63.5 142.5h1v1h-1zM146.5 97.2h1v1h-1zM34.7 39.0h1v1h-1zM40.7 67.2h1v1h-1zM35.9 31.5h1v1h-1zM117.7 99.6h1v1h-1zM46.3 154.1h1v1h-1zM33.6 88.3h1v1h-1zM24.3 133.8h1v1h-1zM134.7 41.4h1v1h-1zM116.5 127.5h1v1h-1zM43.8 51.4h1v1h-1zM75.3 138.1h1v1h-1zM25.0 105.8h1v1h-1zM92.6 70.2h1v1h-1zM89.8 136.8h1v1h-1zM32.5 137.0h1v1h-1zM55.9 120.9h1v1h-1zM133.8 28.3h1v1h-1zM133.9 154.2h1v1h-1zM46.1 3.8h1v1h-1zM17.3 151.0h1v1h-1zM1.5 141.3h1v1h-1zM23.4 114.1h1v1h-1zM15.1 26.2h1v1h-1zM105.8 14.0h1v1h-1zM52.6 142.4h1v1h-1zM111.0 136.7h1v1h-1zM151.8 5.1h1v1h-1zM36.4 122.8h1v1h-1zM106.9 5.9h1v1h-1zM78.2 35.9h1v1h-1zM66.7 16.3h1v1h-1zM3.1 153.6h1v1h-1zM49.1 136.2h1v1h-1zM18.7 75.5h1v1h-1zM21.1 66.4h1v1h-1zM27.7 106.2h1v1h-1zM22.9 114.4h1v1h-1zM77.6 17.4h1v1h-1zM54.8 76.9h1v1h-1zM142.4 54.2h1v1h-1zM33.3 150.0h1v1h-1zM136.9 113.4h1v1h-1zM42.3 27.5h1v1h-1zM41.0 10.7h1v1h-1zM6.7 78.9h1v1h-1zM63.3 86.3h1v1h-1zM56.2 1.6h1v1h-1zM106.7 101.2h1v1h-1zM84.3 85.1h1v1h-1zM107.0 152.3h1v1h-1zM135.5 111.3h1v1h-1zM61.9 49.3h1v1h-1zM65.0 150.8h1v1h-1zM60.0 59.7h1v1h-1zM63.5 22.2h1v1h-1zM154.7 0.8h1v1h-1zM94.2 143.6h1v1h-1zM39.5 94.7h1v1h-1zM58.4 37.3h1v1h-1zM30.8 18.0h1v1h-1zM130.7 121.5h1v1h-1zM140.8 7.7h1v1h-1zM107.6 50.3h1v1h-1zM100.2 85.1h1v1h-1zM48.9 150.6h1v1h-1zM0.1 115.7h1v1h-1zM132.3 79.1h1v1h-1zM91.8 154.2h1v1h-1zM36.3 97.6h1v1h-1zM115.2 58.7h1v1h-1zM110.4 61.0h1v1h-1zM81.6 95.0h1v1h-1zM105.0 49.9h1v1h-1zM97.5 84.2h1v1h-1zM34.6 94.9h1v1h-1zM41.1 140.9h1v1h-1zM73.4 111.8h1v1h-1zM80.9 73.9h1v1h-1zM34.3 22.0h1v1h-1zM143.7 82.0h1v1h-1zM81.2 81.8h1v1h-1zM126.1 37.0h1v1h-1zM26.7 127.4h1v1h-1zM71.3 99.3h1v1h-1zM128.3 138.6h1v1h-1zM134.5 6.7h1v1h-1zM59.1 129.0h1v1h-1zM126.8 19.1h1v1h-1zM23.8 39.0h1v1h-1zM15.9 55.3h1v1h-1zM124.5 80.8h1v1h-1zM70.2 13.6h1v1h-1zM61.3 154.5h1v1h-1zM107.7 69.6h1v1h-1zM74.1 123.7h1v1h-1zM117.6 23.2h1v1h-1zM105.4 56.9h1v1h-1zM80.7 36.8h1v1h-1zM57.5 52.7h1v1h-1zM59.1 2.8h1v1h-1zM31.1 88.4h1v1h-1zM8.9 27.7h1v1h-1zM111.3 42.6h1v1h-1zM50.2 37.5h1v1h-1zM129.3 14.2h1v1h-1zM98.6 133.1h1v1h-1zM31.3 65.6h1v1h-1zM122.8 95.8h1v1h-1zM57.6 6.8h1v1h-1zM68.6 56.9h1v1h-1zM110.4 45.8h1v1h-1zM63.2 100.5h1v1h-1zM125.7 54.6h1v1h-1zM59.7 89.7h1v1h-1zM143.3 29.7h1v1h-1zM150.6 110.3h1v1h-1zM57.7 103.2h1v1h-1zM51.1 11.0h1v1h-1zM117.2 58.8h1v1h-1zM81.5 77.0h1v1h-1zM139.7 117.3h1v1h-1zM4.0 91.9h1v1h-1zM71.7 71.6h1v1h-1zM130.1 64.3h1v1h-1zM73.4 138.0h1v1h-1zM68.2 76.1h1v1h-1zM79.3 127.8h1v1h-1zM103.9 114.8h1v1h-1zM62.3 6.3h1v1h-1zM105.4 85.8h1v1h-1zM119.2 119.3h1v1h-1zM18.3 34.2h1v1h-1zM12.0 126.7h1v1h-1zM15.8 13.7h1v1h-1zM116.8 87.5h1v1h-1zM8.5 105.6h1v1h-1zM110.2 74.8h1v1h-1zM8.5 107.1h1v1h-1z"/><path opacity="0.3" d="M64.8 90.5h1v1h-1zM154.7 126.6h1v1h-1zM135.1 22.6h1v1h-1zM51.8 80.3h1v1h-1zM0.9 153.2h1v1h-1zM42.6 40.7h1v1h-1zM48.5 39.5h1v1h-1zM133.1 86.1h1v1h-1zM79.2 65.1h1v1h-1zM7.9 47.2h1v1h-1zM134.4 124.3h1v1h-1zM132.8 39.8h1v1h-1zM31.3 8.1h1v1h-1zM83.2 57.9h1v1h-1zM72.0 75.8h1v1h-1zM90.5 56.7h1v1h-1zM124.2 31.0h1v1h-1zM142.5 86.2h1v1h-1zM7.9 48.7h1v1h-1zM82.6 63.4h1v1h-1zM87.6 50.2h1v1h-1zM42.4 123.4h1v1h-1zM45.2 110.1h1v1h-1zM124.4 91.8h1v1h-1zM70.5 144.9h1v1h-1zM69.0 136.1h1v1h-1zM8.9 67.2h1v1h-1zM99.1 7.6h1v1h-1zM133.7 11.1h1v1h-1zM92.4 27.9h1v1h-1zM143.0 87.0h1v1h-1zM124.1 77.2h1v1h-1zM104.4 104.6h1v1h-1zM45.7 32.7h1v1h-1zM129.9 22.6h1v1h-1zM142.3 32.1h1v1h-1zM15.6 14.8h1v1h-1zM121.6 147.4h1v1h-1zM64.3 102.1h1v1h-1zM39.9 140.4h1v1h-1zM106.3 24.0h1v1h-1zM8.8 107.8h1v1h-1zM6.5 129.6h1v1h-1zM45.5 36.1h1v1h-1zM90.2 49.4h1v1h-1zM86.9 23.9h1v1h-1zM141.3 50.3h1v1h-1zM130.4 23.5h1v1h-1zM123.9 151.9h1v1h-1zM60.7 5.1h1v1h-1zM58.9 99.3h1v1h-1zM34.6 84.6h1v1h-1zM14.5 72.0h1v1h-1zM112.9 66.6h1v1h-1zM105.2 17.7h1v1h-1zM128.4 18.9h1v1h-1zM143.1 154.4h1v1h-1zM145.6 81.6h1v1h-1zM45.1 53.9h1v1h-1zM116.3 77.0h1v1h-1zM144.1 14.4h1v1h-1zM75.1 133.9h1v1h-1zM92.7 83.8h1v1h-1zM13.7 21.7h1v1h-1zM42.0 138.4h1v1h-1zM131.0 35.2h1v1h-1zM143.3 5.0h1v1h-1zM92.8 149.9h1v1h-1zM53.4 146.4h1v1h-1zM101.8 7.8h1v1h-1zM51.6 69.7h1v1h-1zM38.3 115.1h1v1h-1zM27.7 122.1h1v1h-1zM46.2 10.8h1v1h-1zM86.7 14.8h1v1h-1zM85.5 122.1h1v1h-1zM92.3 71.5h1v1h-1zM5.2 79.6h1v1h-1zM15.1 100.3h1v1h-1zM20.5 89.6h1v1h-1zM54.7 58.1h1v1h-1zM102.8 25.4h1v1h-1zM26.3 145.9h1v1h-1zM51.4 130.6h1v1h-1zM135.4 74.4h1v1h-1zM23.1 14.6h1v1h-1zM136.3 18.1h1v1h-1zM76.9 83.1h1v1h-1zM18.2 72.5h1v1h-1zM25.4 83.0h1v1h-1zM78.6 56.9h1v1h-1zM30.6 62.6h1v1h-1zM31.5 19.7h1v1h-1zM37.2 135.1h1v1h-1zM77.8 138.0h1v1h-1zM2.3 146.2h1v1h-1zM75.7 122.6h1v1h-1zM88.4 106.8h1v1h-1zM35.5 116.3h1v1h-1zM23.8 40.9h1v1h-1zM4.8 61.0h1v1h-1zM80.3 45.3h1v1h-1zM138.0 13.1h1v1h-1zM89.7 36.3h1v1h-1zM92.3 121.5h1v1h-1zM110.2 9.6h1v1h-1zM38.1 92.9h1v1h-1zM152.4 6.4h1v1h-1zM95.8 107.2h1v1h-1zM126.3 53.0h1v1h-1zM125.6 71.6h1v1h-1zM142.7 1.7h1v1h-1zM145.7 63.9h1v1h-1zM63.1 13.6h1v1h-1zM37.9 113.7h1v1h-1zM105.2 23.4h1v1h-1zM53.4 21.8h1v1h-1zM30.7 34.0h1v1h-1zM51.3 151.3h1v1h-1zM154.6 122.7h1v1h-1zM74.4 77.1h1v1h-1zM120.8 140.8h1v1h-1zM116.5 98.6h1v1h-1zM30.9 96.9h1v1h-1zM131.1 121.9h1v1h-1zM14.3 111.2h1v1h-1zM54.1 25.1h1v1h-1zM149.7 104.3h1v1h-1zM115.6 20.9h1v1h-1zM128.4 145.3h1v1h-1zM140.2 115.5h1v1h-1zM129.0 124.3h1v1h-1zM91.5 67.5h1v1h-1zM127.9 121.6h1v1h-1zM135.0 46.3h1v1h-1zM148.9 82.4h1v1h-1zM146.6 18.0h1v1h-1zM150.1 122.1h1v1h-1zM39.1 129.9h1v1h-1zM36.0 30.7h1v1h-1zM71.0 36.7h1v1h-1zM76.4 140.8h1v1h-1zM106.2 110.1h1v1h-1zM60.8 121.5h1v1h-1zM123.0 105.8h1v1h-1zM146.0 128.0h1v1h-1zM63.0 13.5h1v1h-1zM101.1 129.6h1v1h-1zM52.6 92.2h1v1h-1zM129.6 122.9h1v1h-1zM0.7 75.8h1v1h-1zM2.5 17.1h1v1h-1zM125.9 64.9h1v1h-1zM93.7 70.9h1v1h-1zM52.0 33.1h1v1h-1zM54.8 130.9h1v1h-1zM96.0 45.3h1v1h-1zM13.6 42.0h1v1h-1zM108.7 68.5h1v1h-1zM102.5 125.1h1v1h-1zM18.7 105.9h1v1h-1zM6.4 127.6h1v1h-1zM28.5 42.1h1v1h-1zM148.4 56.2h1v1h-1zM34.8 137.9h1v1h-1zM94.6 138.6h1v1h-1zM61.1 77.5h1v1h-1zM148.1 78.5h1v1h-1zM153.2 29.4h1v1h-1zM128.7 25.1h1v1h-1zM81.7 0.1h1v1h-1zM27.2 146.5h1v1h-1zM70.5 125.5h1v1h-1zM38.9 54.6h1v1h-1zM15.6 85.7h1v1h-1zM133.6 79.6h1v1h-1zM58.4 143.9h1v1h-1zM138.5 103.3h1v1h-1zM11.8 96.7h1v1h-1zM68.8 148.5h1v1h-1zM56.1 102.5h1v1h-1zM97.9 58.3h1v1h-1zM80.9 104.9h1v1h-1zM140.6 77.2h1v1h-1zM56.4 151.3h1v1h-1zM8.8 129.4h1v1h-1zM105.9 86.4h1v1h-1zM69.4 116.4h1v1h-1zM138.1 113.0h1v1h-1zM116.2 5.4h1v1h-1zM50.4 21.2h1v1h-1zM147.7 138.2h1v1h-1zM22.4 91.1h1v1h-1zM89.4 7.2h1v1h-1zM60.8 115.8h1v1h-1zM99.4 43.5h1v1h-1zM118.2 45.1h1v1h-1zM84.4 65.2h1v1h-1zM151.6 100.6h1v1h-1zM124.8 104.9h1v1h-1zM59.0 149.3h1v1h-1zM110.0 107.1h1v1h-1zM43.0 25.1h1v1h-1zM89.2 128.0h1v1h-1zM123.0 53.8h1v1h-1zM21.7 80.0h1v1h-1zM136.0 25.1h1v1h-1zM114.4 26.5h1v1h-1zM48.4 8.3h1v1h-1zM46.1 59.4h1v1h-1zM149.9 149.1h1v1h-1zM29.0 48.0h1v1h-1zM146.3 30.6h1v1h-1zM49.7 67.9h1v1h-1zM16.8 40.3h1v1h-1zM61.1 59.8h1v1h-1zM149.4 41.4h1v1h-1zM31.6 140.9h1v1h-1zM69.8 129.8h1v1h-1zM98.8 120.7h1v1h-1zM48.8 23.6h1v1h-1zM117.3 72.9h1v1h-1zM86.6 103.9h1v1h-1zM116.7 42.7h1v1h-1zM56.2 142.2h1v1h-1zM82.0 44.7h1v1h-1zM97.7 40.3h1v1h-1zM119.6 6.4h1v1h-1zM128.1 87.8h1v1h-1zM54.8 145.7h1v1h-1zM41.2 37.7h1v1h-1zM10.8 85.0h1v1h-1zM116.8 105.1h1v1h-1zM64.0 125.2h1v1h-1zM17.2 47.6h1v1h-1zM99.9 149.9h1v1h-1zM98.3 107.3h1v1h-1zM120.1 61.1h1v1h-1zM145.8 115.1h1v1h-1zM53.0 60.8h1v1h-1z"/><path opacity="0.42" d="M124.9 54.2h1.1v1.1h-1.1zM28.8 135.1h1.1v1.1h-1.1zM82.4 80.8h1.1v1.1h-1.1zM103.8 139.7h1.1v1.1h-1.1zM20.7 52.5h1.1v1.1h-1.1zM10.2 64.0h1.1v1.1h-1.1zM77.8 132.0h1.1v1.1h-1.1zM103.5 89.6h1.1v1.1h-1.1zM62.6 88.9h1.1v1.1h-1.1zM42.4 130.9h1.1v1.1h-1.1zM122.2 130.0h1.1v1.1h-1.1zM23.4 104.1h1.1v1.1h-1.1zM116.9 77.6h1.1v1.1h-1.1zM139.2 139.3h1.1v1.1h-1.1zM115.2 127.3h1.1v1.1h-1.1zM100.6 136.2h1.1v1.1h-1.1zM20.3 109.1h1.1v1.1h-1.1zM109.1 94.9h1.1v1.1h-1.1zM42.6 10.4h1.1v1.1h-1.1zM93.5 127.8h1.1v1.1h-1.1zM42.3 33.0h1.1v1.1h-1.1zM34.7 14.5h1.1v1.1h-1.1zM104.8 151.1h1.1v1.1h-1.1zM124.3 55.8h1.1v1.1h-1.1zM108.4 11.2h1.1v1.1h-1.1zM130.0 50.4h1.1v1.1h-1.1zM0.5 97.5h1.1v1.1h-1.1zM21.5 42.6h1.1v1.1h-1.1zM9.2 69.1h1.1v1.1h-1.1zM86.0 125.1h1.1v1.1h-1.1zM6.1 128.2h1.1v1.1h-1.1zM17.1 34.8h1.1v1.1h-1.1zM97.6 52.7h1.1v1.1h-1.1zM51.3 88.1h1.1v1.1h-1.1zM33.8 123.0h1.1v1.1h-1.1zM32.4 130.1h1.1v1.1h-1.1zM125.4 83.2h1.1v1.1h-1.1zM4.7 120.6h1.1v1.1h-1.1zM4.4 78.2h1.1v1.1h-1.1zM65.7 9.8h1.1v1.1h-1.1zM97.7 112.3h1.1v1.1h-1.1zM90.7 62.0h1.1v1.1h-1.1zM79.4 91.3h1.1v1.1h-1.1zM35.1 134.5h1.1v1.1h-1.1zM154.3 124.6h1.1v1.1h-1.1zM149.0 51.1h1.1v1.1h-1.1zM152.9 11.1h1.1v1.1h-1.1zM74.1 20.7h1.1v1.1h-1.1zM70.4 105.8h1.1v1.1h-1.1zM109.8 70.5h1.1v1.1h-1.1zM53.0 29.4h1.1v1.1h-1.1zM62.4 43.8h1.1v1.1h-1.1zM30.1 114.1h1.1v1.1h-1.1zM80.0 68.0h1.1v1.1h-1.1zM30.6 109.1h1.1v1.1h-1.1zM30.5 41.2h1.1v1.1h-1.1zM86.8 108.7h1.1v1.1h-1.1zM150.8 115.9h1.1v1.1h-1.1zM147.0 142.6h1.1v1.1h-1.1zM112.0 111.5h1.1v1.1h-1.1zM9.7 31.9h1.1v1.1h-1.1zM2.0 133.9h1.1v1.1h-1.1zM111.9 97.7h1.1v1.1h-1.1zM40.9 55.1h1.1v1.1h-1.1zM25.4 98.0h1.1v1.1h-1.1zM153.7 47.4h1.1v1.1h-1.1zM6.9 27.2h1.1v1.1h-1.1zM55.1 139.3h1.1v1.1h-1.1zM124.7 70.5h1.1v1.1h-1.1zM15.8 16.5h1.1v1.1h-1.1zM23.9 120.5h1.1v1.1h-1.1zM73.0 153.5h1.1v1.1h-1.1zM141.3 123.2h1.1v1.1h-1.1zM73.8 127.4h1.1v1.1h-1.1zM19.9 16.9h1.1v1.1h-1.1zM87.3 78.7h1.1v1.1h-1.1zM32.4 39.1h1.1v1.1h-1.1zM3.3 140.9h1.1v1.1h-1.1zM110.1 146.5h1.1v1.1h-1.1zM152.0 67.7h1.1v1.1h-1.1zM113.5 59.5h1.1v1.1h-1.1zM125.8 130.4h1.1v1.1h-1.1zM20.7 2.0h1.1v1.1h-1.1zM33.2 90.7h1.1v1.1h-1.1zM58.7 1.4h1.1v1.1h-1.1zM128.7 121.8h1.1v1.1h-1.1zM71.9 6.7h1.1v1.1h-1.1zM137.8 82.8h1.1v1.1h-1.1zM11.0 50.1h1.1v1.1h-1.1zM96.8 137.2h1.1v1.1h-1.1zM75.1 99.1h1.1v1.1h-1.1zM31.9 37.7h1.1v1.1h-1.1zM140.4 59.3h1.1v1.1h-1.1zM16.1 91.6h1.1v1.1h-1.1zM19.6 31.0h1.1v1.1h-1.1zM70.7 90.8h1.1v1.1h-1.1zM98.6 109.6h1.1v1.1h-1.1zM68.1 10.5h1.1v1.1h-1.1zM112.3 8.3h1.1v1.1h-1.1zM73.0 62.0h1.1v1.1h-1.1zM104.3 110.6h1.1v1.1h-1.1zM37.2 100.7h1.1v1.1h-1.1zM107.3 73.1h1.1v1.1h-1.1zM22.0 140.9h1.1v1.1h-1.1zM92.9 9.7h1.1v1.1h-1.1zM37.0 153.0h1.1v1.1h-1.1zM35.5 60.8h1.1v1.1h-1.1zM122.1 127.7h1.1v1.1h-1.1zM98.3 114.9h1.1v1.1h-1.1zM5.9 14.5h1.1v1.1h-1.1zM151.3 124.4h1.1v1.1h-1.1zM5.9 7.5h1.1v1.1h-1.1zM37.3 144.3h1.1v1.1h-1.1zM34.0 104.1h1.1v1.1h-1.1zM144.2 99.0h1.1v1.1h-1.1zM142.5 40.8h1.1v1.1h-1.1zM23.8 2.8h1.1v1.1h-1.1zM117.4 16.1h1.1v1.1h-1.1zM150.8 110.0h1.1v1.1h-1.1zM29.0 125.1h1.1v1.1h-1.1zM25.2 79.4h1.1v1.1h-1.1zM16.4 122.0h1.1v1.1h-1.1zM137.9 142.0h1.1v1.1h-1.1zM0.4 132.0h1.1v1.1h-1.1zM86.2 127.3h1.1v1.1h-1.1zM77.9 96.1h1.1v1.1h-1.1zM92.2 123.9h1.1v1.1h-1.1zM12.0 8.4h1.1v1.1h-1.1zM84.5 45.1h1.1v1.1h-1.1zM61.5 1.2h1.1v1.1h-1.1zM115.5 3.7h1.1v1.1h-1.1zM128.6 125.8h1.1v1.1h-1.1zM71.0 18.9h1.1v1.1h-1.1zM100.8 32.1h1.1v1.1h-1.1zM66.5 17.1h1.1v1.1h-1.1zM151.4 84.6h1.1v1.1h-1.1zM54.6 14.6h1.1v1.1h-1.1zM113.2 131.7h1.1v1.1h-1.1zM131.5 15.7h1.1v1.1h-1.1zM57.0 46.9h1.1v1.1h-1.1zM118.2 22.9h1.1v1.1h-1.1zM94.0 151.7h1.1v1.1h-1.1zM119.2 1.1h1.1v1.1h-1.1zM11.6 17.6h1.1v1.1h-1.1zM107.3 92.8h1.1v1.1h-1.1zM80.6 70.6h1.1v1.1h-1.1zM63.1 94.7h1.1v1.1h-1.1zM100.5 142.0h1.1v1.1h-1.1zM113.6 123.5h1.1v1.1h-1.1zM141.5 129.8h1.1v1.1h-1.1z"/><path opacity="0.56" d="M111.1 4.7h1.2v1.2h-1.2zM105.5 131.7h1.2v1.2h-1.2zM66.8 136.1h1.2v1.2h-1.2zM27.9 146.1h1.2v1.2h-1.2zM68.5 109.5h1.2v1.2h-1.2zM39.2 46.6h1.2v1.2h-1.2zM54.0 50.3h1.2v1.2h-1.2zM14.7 68.6h1.2v1.2h-1.2zM152.0 101.4h1.2v1.2h-1.2zM144.5 118.2h1.2v1.2h-1.2zM129.7 154.1h1.2v1.2h-1.2zM116.7 42.5h1.2v1.2h-1.2zM38.7 63.9h1.2v1.2h-1.2zM3.2 35.8h1.2v1.2h-1.2zM137.4 142.7h1.2v1.2h-1.2zM50.9 119.4h1.2v1.2h-1.2zM120.1 137.9h1.2v1.2h-1.2zM123.2 82.5h1.2v1.2h-1.2zM16.3 127.9h1.2v1.2h-1.2zM48.6 97.2h1.2v1.2h-1.2zM56.9 83.3h1.2v1.2h-1.2zM149.7 25.0h1.2v1.2h-1.2zM82.3 100.7h1.2v1.2h-1.2zM83.5 145.4h1.2v1.2h-1.2zM63.2 141.6h1.2v1.2h-1.2zM106.9 150.0h1.2v1.2h-1.2zM13.9 32.9h1.2v1.2h-1.2zM44.5 140.5h1.2v1.2h-1.2zM2.1 40.3h1.2v1.2h-1.2zM111.0 153.4h1.2v1.2h-1.2zM27.3 67.9h1.2v1.2h-1.2zM106.5 107.0h1.2v1.2h-1.2zM115.6 116.7h1.2v1.2h-1.2zM38.5 39.9h1.2v1.2h-1.2zM4.3 107.1h1.2v1.2h-1.2zM32.4 40.2h1.2v1.2h-1.2zM149.5 99.7h1.2v1.2h-1.2zM91.6 101.7h1.2v1.2h-1.2zM92.7 107.7h1.2v1.2h-1.2zM47.1 9.9h1.2v1.2h-1.2zM10.4 2.3h1.2v1.2h-1.2zM56.0 22.0h1.2v1.2h-1.2zM17.5 76.5h1.2v1.2h-1.2zM150.3 106.6h1.2v1.2h-1.2zM42.4 119.3h1.2v1.2h-1.2zM27.6 15.5h1.2v1.2h-1.2zM47.0 63.4h1.2v1.2h-1.2zM106.9 69.0h1.2v1.2h-1.2zM112.9 14.7h1.2v1.2h-1.2zM144.5 53.1h1.2v1.2h-1.2zM129.0 4.8h1.2v1.2h-1.2zM128.5 35.1h1.2v1.2h-1.2zM132.5 124.4h1.2v1.2h-1.2zM104.0 43.0h1.2v1.2h-1.2zM1.5 29.4h1.2v1.2h-1.2zM140.3 24.5h1.2v1.2h-1.2zM102.2 91.0h1.2v1.2h-1.2zM102.5 28.0h1.2v1.2h-1.2zM22.3 15.1h1.2v1.2h-1.2zM152.3 59.4h1.2v1.2h-1.2zM101.1 88.3h1.2v1.2h-1.2zM34.6 10.0h1.2v1.2h-1.2zM2.3 132.1h1.2v1.2h-1.2zM20.2 149.3h1.2v1.2h-1.2zM56.4 112.0h1.2v1.2h-1.2zM21.4 122.1h1.2v1.2h-1.2zM39.0 56.8h1.2v1.2h-1.2zM81.1 17.3h1.2v1.2h-1.2zM38.5 123.4h1.2v1.2h-1.2zM44.2 59.0h1.2v1.2h-1.2zM118.5 34.7h1.2v1.2h-1.2zM30.1 33.9h1.2v1.2h-1.2zM59.5 56.6h1.2v1.2h-1.2zM99.4 73.1h1.2v1.2h-1.2zM134.8 7.8h1.2v1.2h-1.2zM102.9 129.6h1.2v1.2h-1.2zM36.4 4.6h1.2v1.2h-1.2zM67.9 18.0h1.2v1.2h-1.2zM71.3 110.3h1.2v1.2h-1.2zM14.5 18.3h1.2v1.2h-1.2z"/></g>
<g id="bs" fill="#fff" filter="url(#b5)"><circle cx="19.5" cy="41.2" r="2.5" opacity="0.32"/><circle cx="19.5" cy="41.2" r="1.01" opacity="1"/><path d="M16.4 41.2h6.2M19.5 38.1v6.2" stroke="#fff" stroke-width=".8" opacity=".3"/><circle cx="7.3" cy="62" r="2.25" opacity="0.28"/><circle cx="7.3" cy="62" r="0.93" opacity="0.95"/><path d="M4.45 62h5.7M7.3 59.15v5.7" stroke="#fff" stroke-width=".8" opacity=".3"/><circle cx="4.4" cy="50.8" r="1.75" opacity="0.2"/><circle cx="4.4" cy="50.8" r="0.76" opacity="0.73"/><circle cx="61.9" cy="22.9" r="1.9" opacity="0.22"/><circle cx="61.9" cy="22.9" r="0.81" opacity="0.8"/><circle cx="68.1" cy="17.1" r="1.75" opacity="0.2"/><circle cx="68.1" cy="17.1" r="0.76" opacity="0.73"/><circle cx="37.8" cy="34.4" r="1.6" opacity="0.18"/><circle cx="37.8" cy="34.4" r="0.7" opacity="0.66"/><circle cx="33" cy="38.3" r="1.5" opacity="0.16"/><circle cx="33" cy="38.3" r="0.67" opacity="0.62"/><circle cx="49.7" cy="35.4" r="1.5" opacity="0.16"/><circle cx="49.7" cy="35.4" r="0.67" opacity="0.62"/><circle cx="22.8" cy="33.5" r="1.5" opacity="0.16"/><circle cx="22.8" cy="33.5" r="0.67" opacity="0.62"/><circle cx="17" cy="44.6" r="1.5" opacity="0.16"/><circle cx="17" cy="44.6" r="0.67" opacity="0.62"/><circle cx="43" cy="20.9" r="1.5" opacity="0.16"/><circle cx="43" cy="20.9" r="0.67" opacity="0.62"/><circle cx="39.1" cy="4.5" r="1.5" opacity="0.16"/><circle cx="39.1" cy="4.5" r="0.67" opacity="0.62"/><circle cx="55.5" cy="5.5" r="1.5" opacity="0.16"/><circle cx="55.5" cy="5.5" r="0.67" opacity="0.62"/><circle cx="23.7" cy="69.1" r="1.6" opacity="0.18"/><circle cx="23.7" cy="69.1" r="0.7" opacity="0.66"/><circle cx="15" cy="53.7" r="1.5" opacity="0.16"/><circle cx="15" cy="53.7" r="0.67" opacity="0.62"/><circle cx="91.2" cy="22.9" r="2.3" opacity="0.29"/><circle cx="91.2" cy="22.9" r="0.94" opacity="0.97"/><path d="M88.3 22.9h5.8M91.2 20v5.8" stroke="#fff" stroke-width=".8" opacity=".3"/><circle cx="109.5" cy="34" r="2.3" opacity="0.29"/><circle cx="109.5" cy="34" r="0.94" opacity="0.97"/><path d="M106.6 34h5.8M109.5 31.1v5.8" stroke="#fff" stroke-width=".8" opacity=".3"/><circle cx="94.1" cy="28.3" r="1.75" opacity="0.2"/><circle cx="94.1" cy="28.3" r="0.76" opacity="0.73"/><circle cx="91.6" cy="16.5" r="1.75" opacity="0.2"/><circle cx="91.6" cy="16.5" r="0.76" opacity="0.73"/><circle cx="124" cy="39.2" r="1.75" opacity="0.2"/><circle cx="124" cy="39.2" r="0.76" opacity="0.73"/><circle cx="118.8" cy="43.5" r="1.6" opacity="0.18"/><circle cx="118.8" cy="43.5" r="0.7" opacity="0.66"/><circle cx="101.8" cy="37.3" r="1.6" opacity="0.18"/><circle cx="101.8" cy="37.3" r="0.7" opacity="0.66"/><circle cx="97" cy="47" r="1.5" opacity="0.16"/><circle cx="97" cy="47" r="0.67" opacity="0.62"/><circle cx="136.5" cy="49.8" r="1.6" opacity="0.18"/><circle cx="136.5" cy="49.8" r="0.7" opacity="0.66"/><circle cx="141.3" cy="39.2" r="1.6" opacity="0.18"/><circle cx="141.3" cy="39.2" r="0.7" opacity="0.66"/><circle cx="146.1" cy="42.7" r="1.5" opacity="0.16"/><circle cx="146.1" cy="42.7" r="0.67" opacity="0.62"/><circle cx="94.7" cy="66.2" r="1.6" opacity="0.18"/><circle cx="94.7" cy="66.2" r="0.7" opacity="0.66"/><circle cx="101.8" cy="65.3" r="1.5" opacity="0.16"/><circle cx="101.8" cy="65.3" r="0.67" opacity="0.62"/><circle cx="111.4" cy="72" r="1.6" opacity="0.18"/><circle cx="111.4" cy="72" r="0.7" opacity="0.66"/><circle cx="125.9" cy="59.5" r="1.5" opacity="0.16"/><circle cx="125.9" cy="59.5" r="0.67" opacity="0.62"/><circle cx="81.6" cy="23.8" r="1.5" opacity="0.16"/><circle cx="81.6" cy="23.8" r="0.67" opacity="0.62"/><circle cx="104.7" cy="24.8" r="1.5" opacity="0.16"/><circle cx="104.7" cy="24.8" r="0.67" opacity="0.62"/><circle cx="53" cy="115.8" r="2.7" opacity="0.35"/><circle cx="53" cy="115.8" r="1.08" opacity="1"/><path d="M49.7 115.8h6.6M53 112.5v6.6" stroke="#fff" stroke-width=".8" opacity=".3"/><circle cx="38.8" cy="119.8" r="1.9" opacity="0.22"/><circle cx="38.8" cy="119.8" r="0.81" opacity="0.8"/><circle cx="20.8" cy="118.7" r="1.75" opacity="0.2"/><circle cx="20.8" cy="118.7" r="0.76" opacity="0.73"/><circle cx="19.9" cy="103.8" r="1.75" opacity="0.2"/><circle cx="19.9" cy="103.8" r="0.76" opacity="0.73"/><circle cx="20.4" cy="86.5" r="1.75" opacity="0.2"/><circle cx="20.4" cy="86.5" r="0.76" opacity="0.73"/><circle cx="33.4" cy="100.9" r="1.65" opacity="0.18"/><circle cx="33.4" cy="100.9" r="0.72" opacity="0.69"/><circle cx="59.4" cy="133.7" r="1.8" opacity="0.21"/><circle cx="59.4" cy="133.7" r="0.77" opacity="0.75"/><circle cx="52.3" cy="133.7" r="1.6" opacity="0.18"/><circle cx="52.3" cy="133.7" r="0.7" opacity="0.66"/><circle cx="57.5" cy="124.5" r="1.6" opacity="0.18"/><circle cx="57.5" cy="124.5" r="0.7" opacity="0.66"/><circle cx="6.4" cy="90.3" r="1.6" opacity="0.18"/><circle cx="6.4" cy="90.3" r="0.7" opacity="0.66"/><circle cx="10.2" cy="97.1" r="1.5" opacity="0.16"/><circle cx="10.2" cy="97.1" r="0.67" opacity="0.62"/><circle cx="26.6" cy="93.2" r="1.5" opacity="0.16"/><circle cx="26.6" cy="93.2" r="0.67" opacity="0.62"/><circle cx="43" cy="96.1" r="1.5" opacity="0.16"/><circle cx="43" cy="96.1" r="0.67" opacity="0.62"/><circle cx="38.2" cy="80.7" r="1.5" opacity="0.16"/><circle cx="38.2" cy="80.7" r="0.67" opacity="0.62"/><circle cx="16" cy="107.7" r="1.5" opacity="0.16"/><circle cx="16" cy="107.7" r="0.67" opacity="0.62"/><circle cx="64.2" cy="149.1" r="1.5" opacity="0.16"/><circle cx="64.2" cy="149.1" r="0.67" opacity="0.62"/><circle cx="139.8" cy="107.3" r="2.4" opacity="0.3"/><circle cx="139.8" cy="107.3" r="0.98" opacity="1"/><path d="M136.8 107.3h6M139.8 104.3v6" stroke="#fff" stroke-width=".8" opacity=".3"/><circle cx="124" cy="86.5" r="1.8" opacity="0.21"/><circle cx="124" cy="86.5" r="0.77" opacity="0.75"/><circle cx="125.5" cy="97.1" r="1.7" opacity="0.19"/><circle cx="125.5" cy="97.1" r="0.74" opacity="0.71"/><circle cx="138.4" cy="85.1" r="1.65" opacity="0.18"/><circle cx="138.4" cy="85.1" r="0.72" opacity="0.69"/><circle cx="103.7" cy="126" r="1.8" opacity="0.21"/><circle cx="103.7" cy="126" r="0.77" opacity="0.75"/><circle cx="98.9" cy="145.3" r="1.8" opacity="0.21"/><circle cx="98.9" cy="145.3" r="0.77" opacity="0.75"/><circle cx="106.6" cy="146.2" r="1.8" opacity="0.21"/><circle cx="106.6" cy="146.2" r="0.77" opacity="0.75"/><circle cx="94.1" cy="148.7" r="1.6" opacity="0.18"/><circle cx="94.1" cy="148.7" r="0.7" opacity="0.66"/><circle cx="124" cy="138.5" r="1.8" opacity="0.21"/><circle cx="124" cy="138.5" r="0.77" opacity="0.75"/><circle cx="79.6" cy="102.9" r="1.7" opacity="0.19"/><circle cx="79.6" cy="102.9" r="0.74" opacity="0.71"/><circle cx="83.5" cy="141.4" r="1.7" opacity="0.19"/><circle cx="83.5" cy="141.4" r="0.74" opacity="0.71"/><circle cx="93.1" cy="123.1" r="1.6" opacity="0.18"/><circle cx="93.1" cy="123.1" r="0.7" opacity="0.66"/><circle cx="120.1" cy="117.3" r="1.6" opacity="0.18"/><circle cx="120.1" cy="117.3" r="0.7" opacity="0.66"/><circle cx="130.7" cy="127" r="1.6" opacity="0.18"/><circle cx="130.7" cy="127" r="0.7" opacity="0.66"/><circle cx="116.3" cy="106.7" r="1.5" opacity="0.16"/><circle cx="116.3" cy="106.7" r="0.67" opacity="0.62"/><circle cx="81.6" cy="117.3" r="1.6" opacity="0.18"/><circle cx="81.6" cy="117.3" r="0.7" opacity="0.66"/><circle cx="105.7" cy="82" r="1.5" opacity="0.16"/><circle cx="105.7" cy="82" r="0.67" opacity="0.62"/><circle cx="138.4" cy="122.5" r="1.65" opacity="0.18"/><circle cx="138.4" cy="122.5" r="0.72" opacity="0.69"/></g>
</defs>
<rect width="830" height="415" fill="#fff"/>
<g transform="translate(64.3,24.2)">
<rect width="155" height="155" fill="#000"/>
<g filter="url(#inf)"><g clip-path="url(#pc)"><g filter="url(#nz0)"><rect width="156" height="156" fill="#4a4a4a"/><use href="#fs" opacity="0.7"/></g><use href="#neb" opacity="1"/><use href="#core" opacity="1"/><use href="#jet" opacity="0.25"/><use href="#bs" opacity="0.7"/></g></g>
<rect class="l" width="155" height="155"/>
<text class="k m" x="22.14" y="168.8">50</text><text class="k m" x="77.5" y="168.8">0</text><text class="k m" x="132.86" y="168.8">−50</text><text class="k e" x="-6.6" y="15.17">60</text><text class="k e" x="-6.6" y="37.31">40</text><text class="k e" x="-6.6" y="59.46">20</text><text class="k e" x="-6.6" y="81.6">0</text><text class="k e" x="-6.6" y="103.74">−20</text><text class="k e" x="-6.6" y="125.89">−40</text><text class="k e" x="-6.6" y="148.03">−60</text>
<path class="l" d="M22.14 155v3.3M77.5 155v3.3M132.86 155v3.3M0 11.07h-3.3M0 33.21h-3.3M0 55.36h-3.3M0 77.5h-3.3M0 99.64h-3.3M0 121.79h-3.3M0 143.93h-3.3"/>
<text class="t" x="77.5" y="-5.7">F110W, J band</text>
<rect x="165.7" y="0" width="7.7" height="155" fill="url(#cb)"/><rect class="l" x="165.7" y="0" width="7.7" height="155"/>
<text class="k" x="180" y="4.1">−10</text><text class="k" x="180" y="35.1">−11</text><text class="k" x="180" y="66.1">−12</text><text class="k" x="180" y="97.1">−13</text><text class="k" x="180" y="128.1">−14</text><text class="k" x="180" y="159.1">−15</text>
<path class="l" d="M173.4 0h3.3M173.4 31h3.3M173.4 62h3.3M173.4 93h3.3M173.4 124h3.3M173.4 155h3.3"/>
<text class="k m" transform="translate(212.2,77.5) rotate(-90)">log(erg/cm2/s/arcsec2)</text>
<text class="k m" x="77.5" y="182.5">RA offset [arcsec]</text>
<text class="k m" transform="translate(-31.9,77.5) rotate(-90)">dec offset [arcsec]</text>
</g>
<g transform="translate(333.3,24.2)">
<rect width="155" height="155" fill="#000"/>
<g filter="url(#inf)"><g clip-path="url(#pc)"><g filter="url(#nz1)"><rect width="156" height="156" fill="#343434"/><use href="#fs" opacity="0.66"/></g><use href="#xh" opacity="0.7"/><use href="#neb" opacity="0.8"/><use href="#core" opacity="1"/><use href="#jet" opacity="0.25"/><use href="#bs" opacity="0.66"/></g></g>
<rect class="l" width="155" height="155"/>
<text class="k m" x="22.14" y="168.8">50</text><text class="k m" x="77.5" y="168.8">0</text><text class="k m" x="132.86" y="168.8">−50</text><text class="k e" x="-6.6" y="15.17">60</text><text class="k e" x="-6.6" y="37.31">40</text><text class="k e" x="-6.6" y="59.46">20</text><text class="k e" x="-6.6" y="81.6">0</text><text class="k e" x="-6.6" y="103.74">−20</text><text class="k e" x="-6.6" y="125.89">−40</text><text class="k e" x="-6.6" y="148.03">−60</text>
<path class="l" d="M22.14 155v3.3M77.5 155v3.3M132.86 155v3.3M0 11.07h-3.3M0 33.21h-3.3M0 55.36h-3.3M0 77.5h-3.3M0 99.64h-3.3M0 121.79h-3.3M0 143.93h-3.3"/>
<text class="t" x="77.5" y="-5.7">F128N, Pa-beta</text>
<rect x="165.7" y="0" width="7.7" height="155" fill="url(#cb)"/><rect class="l" x="165.7" y="0" width="7.7" height="155"/>
<text class="k" x="180" y="4.1">−11</text><text class="k" x="180" y="35.1">−12</text><text class="k" x="180" y="66.1">−13</text><text class="k" x="180" y="97.1">−14</text><text class="k" x="180" y="128.1">−15</text><text class="k" x="180" y="159.1">−16</text>
<path class="l" d="M173.4 0h3.3M173.4 31h3.3M173.4 62h3.3M173.4 93h3.3M173.4 124h3.3M173.4 155h3.3"/>
<text class="k m" transform="translate(212.2,77.5) rotate(-90)">log(erg/cm2/s/arcsec2)</text>
</g>
<g transform="translate(602.3,24.2)">
<rect width="155" height="155" fill="#000"/>
<g filter="url(#inf)"><g clip-path="url(#pc)"><g filter="url(#nz2)"><rect width="156" height="156" fill="#343434"/><use href="#fs" opacity="0.66"/></g><use href="#neb" opacity="0.6"/><use href="#core" opacity="0.9"/><use href="#jet" opacity="0.2"/><use href="#bs" opacity="0.66"/></g></g>
<rect class="l" width="155" height="155"/>
<text class="k m" x="22.14" y="168.8">50</text><text class="k m" x="77.5" y="168.8">0</text><text class="k m" x="132.86" y="168.8">−50</text><text class="k e" x="-6.6" y="15.17">60</text><text class="k e" x="-6.6" y="37.31">40</text><text class="k e" x="-6.6" y="59.46">20</text><text class="k e" x="-6.6" y="81.6">0</text><text class="k e" x="-6.6" y="103.74">−20</text><text class="k e" x="-6.6" y="125.89">−40</text><text class="k e" x="-6.6" y="148.03">−60</text>
<path class="l" d="M22.14 155v3.3M77.5 155v3.3M132.86 155v3.3M0 11.07h-3.3M0 33.21h-3.3M0 55.36h-3.3M0 77.5h-3.3M0 99.64h-3.3M0 121.79h-3.3M0 143.93h-3.3"/>
<text class="t" x="77.5" y="-5.7">F130N, cont.</text>
<rect x="165.7" y="0" width="7.7" height="155" fill="url(#cb)"/><rect class="l" x="165.7" y="0" width="7.7" height="155"/>
<text class="k" x="180" y="4.1">−11</text><text class="k" x="180" y="35.1">−12</text><text class="k" x="180" y="66.1">−13</text><text class="k" x="180" y="97.1">−14</text><text class="k" x="180" y="128.1">−15</text><text class="k" x="180" y="159.1">−16</text>
<path class="l" d="M173.4 0h3.3M173.4 31h3.3M173.4 62h3.3M173.4 93h3.3M173.4 124h3.3M173.4 155h3.3"/>
<text class="k m" transform="translate(212.2,77.5) rotate(-90)">log(erg/cm2/s/arcsec2)</text>
</g>
<g transform="translate(64.3,233.2)">
<rect width="155" height="155" fill="#000"/>
<g filter="url(#inf)"><g clip-path="url(#pc)"><g filter="url(#nz3)"><rect width="156" height="156" fill="#737373"/><use href="#fs" opacity="0.96"/></g><use href="#neb" opacity="0.92"/><use href="#core" opacity="1"/><use href="#jet" opacity="0.2"/><use href="#bs" opacity="0.96"/></g></g>
<rect class="l" width="155" height="155"/>
<text class="k m" x="22.14" y="168.8">50</text><text class="k m" x="77.5" y="168.8">0</text><text class="k m" x="132.86" y="168.8">−50</text><text class="k e" x="-6.6" y="15.17">60</text><text class="k e" x="-6.6" y="37.31">40</text><text class="k e" x="-6.6" y="59.46">20</text><text class="k e" x="-6.6" y="81.6">0</text><text class="k e" x="-6.6" y="103.74">−20</text><text class="k e" x="-6.6" y="125.89">−40</text><text class="k e" x="-6.6" y="148.03">−60</text>
<path class="l" d="M22.14 155v3.3M77.5 155v3.3M132.86 155v3.3M0 11.07h-3.3M0 33.21h-3.3M0 55.36h-3.3M0 77.5h-3.3M0 99.64h-3.3M0 121.79h-3.3M0 143.93h-3.3"/>
<text class="t" x="77.5" y="-5.7">F160W, H band</text>
<rect x="165.7" y="0" width="7.7" height="155" fill="url(#cb)"/><rect class="l" x="165.7" y="0" width="7.7" height="155"/>
<text class="k" x="180" y="4.1">−11</text><text class="k" x="180" y="35.1">−12</text><text class="k" x="180" y="66.1">−13</text><text class="k" x="180" y="97.1">−14</text><text class="k" x="180" y="128.1">−15</text><text class="k" x="180" y="159.1">−16</text>
<path class="l" d="M173.4 0h3.3M173.4 31h3.3M173.4 62h3.3M173.4 93h3.3M173.4 124h3.3M173.4 155h3.3"/>
<text class="k m" transform="translate(212.2,77.5) rotate(-90)">log(erg/cm2/s/arcsec2)</text>
</g>
<g transform="translate(333.3,233.2)">
<rect width="155" height="155" fill="#000"/>
<g filter="url(#inf)"><g clip-path="url(#pc)"><g filter="url(#nz4)"><rect width="156" height="156" fill="#4c4c4c"/><use href="#fs" opacity="0.74"/></g><use href="#neb" opacity="0.7"/><use href="#core" opacity="0.9"/><use href="#jet" opacity="1"/><use href="#jet2"/><use href="#bs" opacity="0.74"/></g></g>
<rect class="l" width="155" height="155"/>
<text class="k m" x="22.14" y="168.8">50</text><text class="k m" x="77.5" y="168.8">0</text><text class="k m" x="132.86" y="168.8">−50</text><text class="k e" x="-6.6" y="15.17">60</text><text class="k e" x="-6.6" y="37.31">40</text><text class="k e" x="-6.6" y="59.46">20</text><text class="k e" x="-6.6" y="81.6">0</text><text class="k e" x="-6.6" y="103.74">−20</text><text class="k e" x="-6.6" y="125.89">−40</text><text class="k e" x="-6.6" y="148.03">−60</text>
<path class="l" d="M22.14 155v3.3M77.5 155v3.3M132.86 155v3.3M0 11.07h-3.3M0 33.21h-3.3M0 55.36h-3.3M0 77.5h-3.3M0 99.64h-3.3M0 121.79h-3.3M0 143.93h-3.3"/>
<text class="t" x="77.5" y="-5.7">F164N, [Fe II]</text>
<rect x="165.7" y="0" width="7.7" height="155" fill="url(#cb)"/><rect class="l" x="165.7" y="0" width="7.7" height="155"/>
<text class="k" x="180" y="19.6">−12</text><text class="k" x="180" y="50.6">−13</text><text class="k" x="180" y="81.6">−14</text><text class="k" x="180" y="112.6">−15</text><text class="k" x="180" y="143.6">−16</text>
<path class="l" d="M173.4 15.5h3.3M173.4 46.5h3.3M173.4 77.5h3.3M173.4 108.5h3.3M173.4 139.5h3.3"/>
<text class="k m" transform="translate(212.2,77.5) rotate(-90)">log(erg/cm2/s/arcsec2)</text>
</g>
<g transform="translate(602.3,233.2)">
<rect width="155" height="155" fill="#000"/>
<g filter="url(#inf)"><g clip-path="url(#pc)"><g filter="url(#nz5)"><rect width="156" height="156" fill="#4b4b4b"/><use href="#fs" opacity="0.96"/></g><use href="#neb" opacity="0.6"/><use href="#core" opacity="0.95"/><use href="#jet" opacity="0.2"/><use href="#bs" opacity="0.96"/></g></g>
<rect class="l" width="155" height="155"/>
<text class="k m" x="22.14" y="168.8">50</text><text class="k m" x="77.5" y="168.8">0</text><text class="k m" x="132.86" y="168.8">−50</text><text class="k e" x="-6.6" y="15.17">60</text><text class="k e" x="-6.6" y="37.31">40</text><text class="k e" x="-6.6" y="59.46">20</text><text class="k e" x="-6.6" y="81.6">0</text><text class="k e" x="-6.6" y="103.74">−20</text><text class="k e" x="-6.6" y="125.89">−40</text><text class="k e" x="-6.6" y="148.03">−60</text>
<path class="l" d="M22.14 155v3.3M77.5 155v3.3M132.86 155v3.3M0 11.07h-3.3M0 33.21h-3.3M0 55.36h-3.3M0 77.5h-3.3M0 99.64h-3.3M0 121.79h-3.3M0 143.93h-3.3"/>
<text class="t" x="77.5" y="-5.7">F167N, cont.</text>
<rect x="165.7" y="0" width="7.7" height="155" fill="url(#cb)"/><rect class="l" x="165.7" y="0" width="7.7" height="155"/>
<text class="k" x="180" y="19.6">−12</text><text class="k" x="180" y="50.6">−13</text><text class="k" x="180" y="81.6">−14</text><text class="k" x="180" y="112.6">−15</text><text class="k" x="180" y="143.6">−16</text>
<path class="l" d="M173.4 15.5h3.3M173.4 46.5h3.3M173.4 77.5h3.3M173.4 108.5h3.3M173.4 139.5h3.3"/>
<text class="k m" transform="translate(212.2,77.5) rotate(-90)">log(erg/cm2/s/arcsec2)</text>
</g>
</svg>
</body></html>
